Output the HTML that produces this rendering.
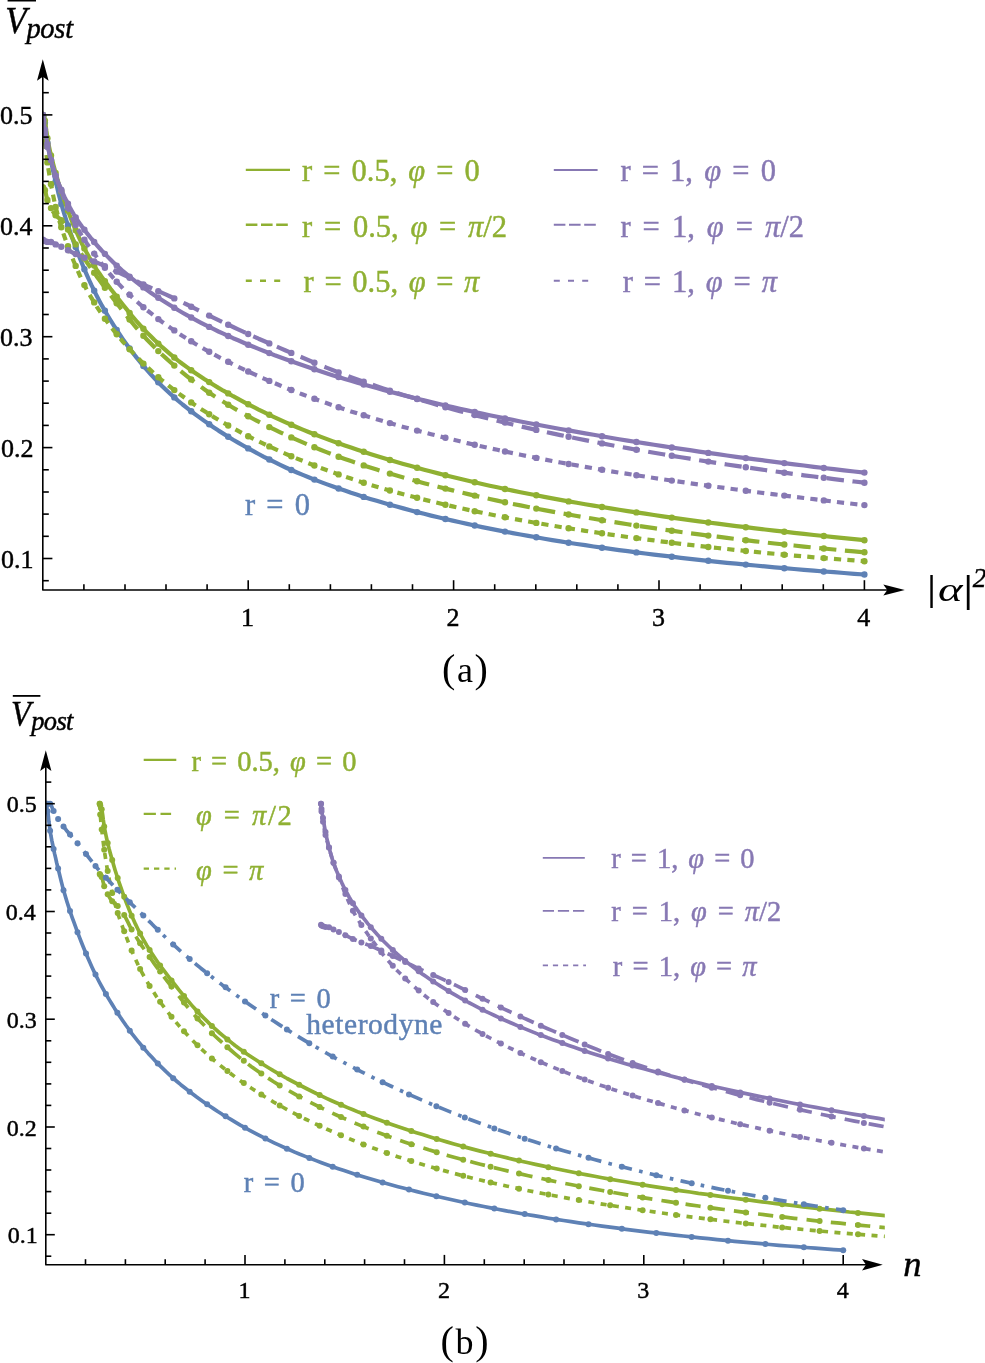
<!DOCTYPE html>
<html><head><meta charset="utf-8"><title>Figure</title>
<style>html,body{margin:0;padding:0;background:#fff}svg{display:block}text{font-family:"Liberation Serif",serif;white-space:pre;stroke-width:0.45px;paint-order:stroke fill}</style>
</head><body>
<svg width="985" height="1363" viewBox="0 0 985 1363">
<rect width="985" height="1363" fill="#fff"/>
<defs><clipPath id="cb"><rect x="45.2" y="780" width="839.6" height="490"/></clipPath><clipPath id="ca"><rect x="42.2" y="90" width="840" height="510"/></clipPath></defs>
<g clip-path="url(#ca)">
<path d="M42.8 114.9 L42.8 115.0 L42.9 115.5 L43.1 116.1 L43.3 117.0 L43.6 118.2 L44.0 119.5 L44.4 121.0 L44.9 122.7 L45.4 126.0 L46.0 131.2 L46.7 137.2 L47.4 142.7 L48.2 147.5 L49.1 152.1 L50.0 156.8 L51.0 161.5 L52.1 166.3 L53.2 171.2 L54.4 176.3 L55.6 181.5 L57.0 186.9 L58.3 192.6 L59.8 198.3 L61.3 203.9 L62.9 209.4 L64.5 214.7 L66.2 220.1 L68.0 225.5 L69.8 230.9 L71.7 236.3 L73.6 241.7 L75.7 247.1 L77.8 252.6 L79.9 258.2 L82.1 263.7 L84.4 269.2 L86.7 274.6 L89.1 280.0 L91.6 285.4 L94.2 290.7 L96.7 295.8 L99.4 300.9 L102.1 305.9 L104.9 310.8 L107.8 315.7 L110.7 320.5 L113.7 325.3 L116.7 330.0 L119.9 334.7 L123.0 339.3 L126.3 344.0 L129.6 348.5 L133.0 353.0 L136.4 357.4 L139.9 361.7 L143.4 366.0 L147.1 370.2 L150.8 374.3 L154.5 378.3 L158.3 382.3 L162.2 386.2 L166.2 390.0 L170.2 393.7 L174.3 397.4 L178.4 401.0 L182.6 404.5 L186.9 407.9 L191.2 411.3 L195.6 414.6 L200.1 417.9 L204.6 421.1 L209.2 424.3 L213.8 427.5 L218.5 430.6 L223.3 433.6 L228.2 436.7 L233.1 439.7 L238.1 442.6 L243.1 445.5 L248.2 448.4 L253.4 451.2 L258.6 454.0 L263.9 456.8 L269.3 459.5 L274.7 462.2 L280.2 464.9 L285.7 467.5 L291.3 470.0 L297.0 472.5 L302.8 474.9 L308.6 477.2 L314.4 479.6 L320.4 481.9 L326.4 484.1 L332.4 486.3 L338.6 488.5 L344.8 490.6 L351.0 492.8 L357.4 494.8 L363.7 496.9 L370.2 498.9 L376.7 500.8 L383.3 502.8 L389.9 504.7 L396.6 506.6 L403.4 508.4 L410.2 510.3 L417.1 512.1 L424.1 513.8 L431.1 515.6 L438.2 517.3 L445.4 519.0 L452.6 520.6 L459.9 522.3 L467.2 523.9 L474.7 525.5 L482.1 527.1 L489.7 528.6 L497.3 530.1 L505.0 531.6 L512.7 533.1 L520.5 534.5 L528.3 535.9 L536.3 537.3 L544.3 538.7 L552.3 540.1 L560.4 541.4 L568.6 542.7 L576.9 544.0 L585.2 545.2 L593.6 546.5 L602.0 547.7 L610.5 548.9 L619.1 550.1 L627.7 551.2 L636.4 552.4 L645.2 553.5 L654.0 554.6 L662.9 555.7 L671.8 556.7 L680.9 557.8 L689.9 558.8 L699.1 559.8 L708.3 560.8 L717.6 561.8 L726.9 562.8 L736.3 563.7 L745.8 564.6 L755.3 565.5 L764.9 566.4 L774.6 567.3 L784.3 568.2 L794.1 569.0 L803.9 569.9 L813.9 570.7 L823.8 571.5 L833.9 572.2 L844.0 573.0 L854.2 573.8 L864.4 574.5" fill="none" stroke="#5e81b5" stroke-width="4.2" stroke-linejoin="round"/>
<g fill="#5e81b5"><circle cx="42.8" cy="114.9" r="3.2"/><circle cx="43.3" cy="117.0" r="3.2"/><circle cx="44.9" cy="122.7" r="3.2"/><circle cx="47.4" cy="142.7" r="3.2"/><circle cx="51.0" cy="161.5" r="3.2"/><circle cx="55.6" cy="181.5" r="3.2"/><circle cx="61.3" cy="203.9" r="3.2"/><circle cx="68.0" cy="225.5" r="3.2"/><circle cx="75.7" cy="247.1" r="3.2"/><circle cx="84.4" cy="269.2" r="3.2"/><circle cx="94.2" cy="290.7" r="3.2"/><circle cx="104.9" cy="310.8" r="3.2"/><circle cx="116.7" cy="330.0" r="3.2"/><circle cx="129.6" cy="348.5" r="3.2"/><circle cx="143.4" cy="366.0" r="3.2"/><circle cx="158.3" cy="382.3" r="3.2"/><circle cx="174.3" cy="397.4" r="3.2"/><circle cx="191.2" cy="411.3" r="3.2"/><circle cx="209.2" cy="424.3" r="3.2"/><circle cx="228.2" cy="436.7" r="3.2"/><circle cx="248.2" cy="448.4" r="3.2"/><circle cx="269.3" cy="459.5" r="3.2"/><circle cx="291.3" cy="470.0" r="3.2"/><circle cx="314.4" cy="479.6" r="3.2"/><circle cx="338.6" cy="488.5" r="3.2"/><circle cx="363.7" cy="496.9" r="3.2"/><circle cx="389.9" cy="504.7" r="3.2"/><circle cx="417.1" cy="512.1" r="3.2"/><circle cx="445.4" cy="519.0" r="3.2"/><circle cx="474.7" cy="525.5" r="3.2"/><circle cx="505.0" cy="531.6" r="3.2"/><circle cx="536.3" cy="537.3" r="3.2"/><circle cx="568.6" cy="542.7" r="3.2"/><circle cx="602.0" cy="547.7" r="3.2"/><circle cx="636.4" cy="552.4" r="3.2"/><circle cx="671.8" cy="556.7" r="3.2"/><circle cx="708.3" cy="560.8" r="3.2"/><circle cx="745.8" cy="564.6" r="3.2"/><circle cx="784.3" cy="568.2" r="3.2"/><circle cx="823.8" cy="571.5" r="3.2"/><circle cx="864.4" cy="574.5" r="3.2"/></g>
</g>
<g clip-path="url(#ca)">
<path d="M42.8 114.9 L42.8 115.0 L42.9 115.3 L43.1 115.8 L43.3 116.4 L43.6 117.2 L44.0 118.2 L44.4 119.3 L44.9 120.6 L45.4 123.3 L46.0 128.0 L46.7 133.4 L47.4 138.3 L48.2 142.6 L49.1 146.9 L50.0 151.1 L51.0 155.4 L52.1 159.8 L53.2 164.1 L54.4 168.5 L55.6 173.0 L57.0 177.5 L58.3 182.1 L59.8 186.8 L61.3 191.5 L62.9 196.3 L64.5 201.1 L66.2 205.9 L68.0 210.7 L69.8 215.6 L71.7 220.5 L73.6 225.4 L75.7 230.2 L77.8 234.8 L79.9 239.4 L82.1 244.0 L84.4 248.4 L86.7 252.8 L89.1 257.1 L91.6 261.3 L94.2 265.5 L96.7 269.6 L99.4 273.5 L102.1 277.4 L104.9 281.3 L107.8 285.1 L110.7 289.0 L113.7 292.8 L116.7 296.8 L119.9 300.8 L123.0 304.8 L126.3 308.9 L129.6 313.0 L133.0 317.0 L136.4 321.0 L139.9 325.0 L143.4 328.8 L147.1 332.6 L150.8 336.3 L154.5 340.0 L158.3 343.6 L162.2 347.2 L166.2 350.7 L170.2 354.1 L174.3 357.5 L178.4 360.8 L182.6 364.0 L186.9 367.1 L191.2 370.2 L195.6 373.2 L200.1 376.2 L204.6 379.2 L209.2 382.1 L213.8 385.0 L218.5 387.9 L223.3 390.7 L228.2 393.4 L233.1 396.2 L238.1 398.9 L243.1 401.6 L248.2 404.3 L253.4 406.9 L258.6 409.6 L263.9 412.2 L269.3 414.8 L274.7 417.3 L280.2 419.9 L285.7 422.4 L291.3 424.8 L297.0 427.2 L302.8 429.6 L308.6 432.0 L314.4 434.3 L320.4 436.6 L326.4 438.9 L332.4 441.1 L338.6 443.3 L344.8 445.5 L351.0 447.6 L357.4 449.7 L363.7 451.8 L370.2 453.9 L376.7 455.9 L383.3 458.0 L389.9 460.0 L396.6 461.9 L403.4 463.9 L410.2 465.8 L417.1 467.8 L424.1 469.7 L431.1 471.5 L438.2 473.4 L445.4 475.2 L452.6 477.0 L459.9 478.8 L467.2 480.5 L474.7 482.3 L482.1 484.0 L489.7 485.7 L497.3 487.3 L505.0 489.0 L512.7 490.6 L520.5 492.2 L528.3 493.8 L536.3 495.3 L544.3 496.9 L552.3 498.4 L560.4 499.9 L568.6 501.4 L576.9 502.8 L585.2 504.2 L593.6 505.6 L602.0 507.0 L610.5 508.4 L619.1 509.8 L627.7 511.1 L636.4 512.4 L645.2 513.7 L654.0 515.0 L662.9 516.3 L671.8 517.6 L680.9 518.8 L689.9 520.1 L699.1 521.3 L708.3 522.5 L717.6 523.7 L726.9 524.9 L736.3 526.1 L745.8 527.2 L755.3 528.4 L764.9 529.5 L774.6 530.6 L784.3 531.7 L794.1 532.8 L803.9 533.9 L813.9 535.0 L823.8 536.0 L833.9 537.1 L844.0 538.1 L854.2 539.1 L864.4 540.2" fill="none" stroke="#8fb032" stroke-width="4.2" stroke-linejoin="round"/>
<g fill="#8fb032"><circle cx="42.8" cy="114.9" r="3.2"/><circle cx="43.3" cy="116.4" r="3.2"/><circle cx="44.9" cy="120.6" r="3.2"/><circle cx="47.4" cy="138.3" r="3.2"/><circle cx="51.0" cy="155.4" r="3.2"/><circle cx="55.6" cy="173.0" r="3.2"/><circle cx="61.3" cy="191.5" r="3.2"/><circle cx="68.0" cy="210.7" r="3.2"/><circle cx="75.7" cy="230.2" r="3.2"/><circle cx="84.4" cy="248.4" r="3.2"/><circle cx="94.2" cy="265.5" r="3.2"/><circle cx="104.9" cy="281.3" r="3.2"/><circle cx="116.7" cy="296.8" r="3.2"/><circle cx="129.6" cy="313.0" r="3.2"/><circle cx="143.4" cy="328.8" r="3.2"/><circle cx="158.3" cy="343.6" r="3.2"/><circle cx="174.3" cy="357.5" r="3.2"/><circle cx="191.2" cy="370.2" r="3.2"/><circle cx="209.2" cy="382.1" r="3.2"/><circle cx="228.2" cy="393.4" r="3.2"/><circle cx="248.2" cy="404.3" r="3.2"/><circle cx="269.3" cy="414.8" r="3.2"/><circle cx="291.3" cy="424.8" r="3.2"/><circle cx="314.4" cy="434.3" r="3.2"/><circle cx="338.6" cy="443.3" r="3.2"/><circle cx="363.7" cy="451.8" r="3.2"/><circle cx="389.9" cy="460.0" r="3.2"/><circle cx="417.1" cy="467.8" r="3.2"/><circle cx="445.4" cy="475.2" r="3.2"/><circle cx="474.7" cy="482.3" r="3.2"/><circle cx="505.0" cy="489.0" r="3.2"/><circle cx="536.3" cy="495.3" r="3.2"/><circle cx="568.6" cy="501.4" r="3.2"/><circle cx="602.0" cy="507.0" r="3.2"/><circle cx="636.4" cy="512.4" r="3.2"/><circle cx="671.8" cy="517.6" r="3.2"/><circle cx="708.3" cy="522.5" r="3.2"/><circle cx="745.8" cy="527.2" r="3.2"/><circle cx="784.3" cy="531.7" r="3.2"/><circle cx="823.8" cy="536.0" r="3.2"/><circle cx="864.4" cy="540.2" r="3.2"/></g>
</g>
<g clip-path="url(#ca)">
<path d="M42.8 187.3 L42.8 187.4 L42.9 187.5 L43.1 187.8 L43.3 188.1 L43.6 188.5 L44.0 189.1 L44.4 189.6 L44.9 190.3 L45.4 191.8 L46.0 194.4 L46.7 197.4 L47.4 200.0 L48.2 202.1 L49.1 204.2 L50.0 206.1 L51.0 208.1 L52.1 210.0 L53.2 211.9 L54.4 213.7 L55.6 215.2 L57.0 216.5 L58.3 217.6 L59.8 218.7 L61.3 220.1 L62.9 222.0 L64.5 224.2 L66.2 226.8 L68.0 229.6 L69.8 232.8 L71.7 236.6 L73.6 240.6 L75.7 244.4 L77.8 247.9 L79.9 251.5 L82.1 255.0 L84.4 258.5 L86.7 262.0 L89.1 265.5 L91.6 269.0 L94.2 272.7 L96.7 276.4 L99.4 280.1 L102.1 283.9 L104.9 287.7 L107.8 291.5 L110.7 295.4 L113.7 299.3 L116.7 303.2 L119.9 307.2 L123.0 311.3 L126.3 315.4 L129.6 319.6 L133.0 323.7 L136.4 327.8 L139.9 331.9 L143.4 335.8 L147.1 339.7 L150.8 343.5 L154.5 347.3 L158.3 351.1 L162.2 354.8 L166.2 358.4 L170.2 362.0 L174.3 365.6 L178.4 369.1 L182.6 372.6 L186.9 376.1 L191.2 379.5 L195.6 382.9 L200.1 386.2 L204.6 389.5 L209.2 392.7 L213.8 395.8 L218.5 398.8 L223.3 401.8 L228.2 404.8 L233.1 407.7 L238.1 410.6 L243.1 413.4 L248.2 416.2 L253.4 419.0 L258.6 421.7 L263.9 424.4 L269.3 427.1 L274.7 429.7 L280.2 432.3 L285.7 434.8 L291.3 437.4 L297.0 439.9 L302.8 442.4 L308.6 444.9 L314.4 447.3 L320.4 449.7 L326.4 452.1 L332.4 454.4 L338.6 456.7 L344.8 458.9 L351.0 461.1 L357.4 463.2 L363.7 465.4 L370.2 467.5 L376.7 469.5 L383.3 471.6 L389.9 473.6 L396.6 475.5 L403.4 477.5 L410.2 479.4 L417.1 481.3 L424.1 483.2 L431.1 485.0 L438.2 486.8 L445.4 488.6 L452.6 490.4 L459.9 492.2 L467.2 493.9 L474.7 495.6 L482.1 497.3 L489.7 499.0 L497.3 500.6 L505.0 502.3 L512.7 503.9 L520.5 505.4 L528.3 507.0 L536.3 508.6 L544.3 510.1 L552.3 511.6 L560.4 513.1 L568.6 514.5 L576.9 516.0 L585.2 517.4 L593.6 518.8 L602.0 520.2 L610.5 521.6 L619.1 522.9 L627.7 524.3 L636.4 525.6 L645.2 526.9 L654.0 528.2 L662.9 529.5 L671.8 530.7 L680.9 532.0 L689.9 533.2 L699.1 534.4 L708.3 535.6 L717.6 536.7 L726.9 537.9 L736.3 539.1 L745.8 540.2 L755.3 541.3 L764.9 542.4 L774.6 543.5 L784.3 544.5 L794.1 545.5 L803.9 546.6 L813.9 547.6 L823.8 548.5 L833.9 549.5 L844.0 550.5 L854.2 551.4 L864.4 552.3" fill="none" stroke="#8fb032" stroke-width="4.2" stroke-linejoin="round" stroke-dasharray="17.2 8.6"/>
<g fill="#8fb032"><circle cx="42.8" cy="187.3" r="3.2"/><circle cx="43.3" cy="188.1" r="3.2"/><circle cx="44.9" cy="190.3" r="3.2"/><circle cx="47.4" cy="200.0" r="3.2"/><circle cx="51.0" cy="208.1" r="3.2"/><circle cx="55.6" cy="215.2" r="3.2"/><circle cx="61.3" cy="220.1" r="3.2"/><circle cx="68.0" cy="229.6" r="3.2"/><circle cx="75.7" cy="244.4" r="3.2"/><circle cx="84.4" cy="258.5" r="3.2"/><circle cx="94.2" cy="272.7" r="3.2"/><circle cx="104.9" cy="287.7" r="3.2"/><circle cx="116.7" cy="303.2" r="3.2"/><circle cx="129.6" cy="319.6" r="3.2"/><circle cx="143.4" cy="335.8" r="3.2"/><circle cx="158.3" cy="351.1" r="3.2"/><circle cx="174.3" cy="365.6" r="3.2"/><circle cx="191.2" cy="379.5" r="3.2"/><circle cx="209.2" cy="392.7" r="3.2"/><circle cx="228.2" cy="404.8" r="3.2"/><circle cx="248.2" cy="416.2" r="3.2"/><circle cx="269.3" cy="427.1" r="3.2"/><circle cx="291.3" cy="437.4" r="3.2"/><circle cx="314.4" cy="447.3" r="3.2"/><circle cx="338.6" cy="456.7" r="3.2"/><circle cx="363.7" cy="465.4" r="3.2"/><circle cx="389.9" cy="473.6" r="3.2"/><circle cx="417.1" cy="481.3" r="3.2"/><circle cx="445.4" cy="488.6" r="3.2"/><circle cx="474.7" cy="495.6" r="3.2"/><circle cx="505.0" cy="502.3" r="3.2"/><circle cx="536.3" cy="508.6" r="3.2"/><circle cx="568.6" cy="514.5" r="3.2"/><circle cx="602.0" cy="520.2" r="3.2"/><circle cx="636.4" cy="525.6" r="3.2"/><circle cx="671.8" cy="530.7" r="3.2"/><circle cx="708.3" cy="535.6" r="3.2"/><circle cx="745.8" cy="540.2" r="3.2"/><circle cx="784.3" cy="544.5" r="3.2"/><circle cx="823.8" cy="548.5" r="3.2"/><circle cx="864.4" cy="552.3" r="3.2"/></g>
</g>
<g clip-path="url(#ca)">
<path d="M42.8 114.9 L42.8 117.0 L42.9 119.6 L43.1 122.6 L43.3 125.9 L43.6 129.5 L44.0 133.3 L44.4 137.3 L44.9 141.4 L45.4 146.0 L46.0 151.3 L46.7 156.9 L47.4 162.4 L48.2 167.8 L49.1 173.2 L50.0 178.8 L51.0 184.3 L52.1 189.9 L53.2 195.7 L54.4 201.4 L55.6 206.9 L57.0 212.1 L58.3 217.3 L59.8 222.4 L61.3 227.3 L62.9 232.1 L64.5 236.8 L66.2 241.4 L68.0 246.2 L69.8 251.1 L71.7 256.0 L73.6 261.0 L75.7 265.9 L77.8 270.8 L79.9 275.6 L82.1 280.5 L84.4 285.1 L86.7 289.6 L89.1 293.9 L91.6 298.2 L94.2 302.4 L96.7 306.6 L99.4 310.7 L102.1 314.7 L104.9 318.7 L107.8 322.6 L110.7 326.5 L113.7 330.4 L116.7 334.2 L119.9 338.0 L123.0 341.8 L126.3 345.5 L129.6 349.2 L133.0 352.9 L136.4 356.5 L139.9 360.0 L143.4 363.6 L147.1 367.0 L150.8 370.4 L154.5 373.8 L158.3 377.2 L162.2 380.5 L166.2 383.7 L170.2 386.9 L174.3 390.1 L178.4 393.2 L182.6 396.3 L186.9 399.4 L191.2 402.4 L195.6 405.4 L200.1 408.4 L204.6 411.3 L209.2 414.2 L213.8 417.1 L218.5 419.9 L223.3 422.7 L228.2 425.5 L233.1 428.2 L238.1 430.9 L243.1 433.6 L248.2 436.2 L253.4 438.8 L258.6 441.4 L263.9 443.9 L269.3 446.4 L274.7 448.9 L280.2 451.4 L285.7 453.8 L291.3 456.2 L297.0 458.6 L302.8 460.9 L308.6 463.2 L314.4 465.5 L320.4 467.8 L326.4 470.0 L332.4 472.2 L338.6 474.4 L344.8 476.5 L351.0 478.6 L357.4 480.7 L363.7 482.7 L370.2 484.7 L376.7 486.7 L383.3 488.6 L389.9 490.5 L396.6 492.4 L403.4 494.2 L410.2 496.0 L417.1 497.8 L424.1 499.6 L431.1 501.3 L438.2 503.0 L445.4 504.7 L452.6 506.4 L459.9 508.0 L467.2 509.6 L474.7 511.2 L482.1 512.7 L489.7 514.3 L497.3 515.8 L505.0 517.3 L512.7 518.7 L520.5 520.1 L528.3 521.5 L536.3 522.9 L544.3 524.3 L552.3 525.6 L560.4 527.0 L568.6 528.3 L576.9 529.6 L585.2 530.8 L593.6 532.1 L602.0 533.3 L610.5 534.6 L619.1 535.8 L627.7 537.0 L636.4 538.1 L645.2 539.3 L654.0 540.4 L662.9 541.6 L671.8 542.7 L680.9 543.8 L689.9 544.9 L699.1 545.9 L708.3 547.0 L717.6 548.0 L726.9 549.0 L736.3 550.0 L745.8 551.0 L755.3 551.9 L764.9 552.9 L774.6 553.8 L784.3 554.7 L794.1 555.6 L803.9 556.4 L813.9 557.3 L823.8 558.1 L833.9 558.9 L844.0 559.7 L854.2 560.4 L864.4 561.2" fill="none" stroke="#8fb032" stroke-width="4.2" stroke-linejoin="round" stroke-dasharray="7.2 6.2"/>
<g fill="#8fb032"><circle cx="42.8" cy="114.9" r="3.2"/><circle cx="43.3" cy="125.9" r="3.2"/><circle cx="44.9" cy="141.4" r="3.2"/><circle cx="47.4" cy="162.4" r="3.2"/><circle cx="51.0" cy="184.3" r="3.2"/><circle cx="55.6" cy="206.9" r="3.2"/><circle cx="61.3" cy="227.3" r="3.2"/><circle cx="68.0" cy="246.2" r="3.2"/><circle cx="75.7" cy="265.9" r="3.2"/><circle cx="84.4" cy="285.1" r="3.2"/><circle cx="94.2" cy="302.4" r="3.2"/><circle cx="104.9" cy="318.7" r="3.2"/><circle cx="116.7" cy="334.2" r="3.2"/><circle cx="129.6" cy="349.2" r="3.2"/><circle cx="143.4" cy="363.6" r="3.2"/><circle cx="158.3" cy="377.2" r="3.2"/><circle cx="174.3" cy="390.1" r="3.2"/><circle cx="191.2" cy="402.4" r="3.2"/><circle cx="209.2" cy="414.2" r="3.2"/><circle cx="228.2" cy="425.5" r="3.2"/><circle cx="248.2" cy="436.2" r="3.2"/><circle cx="269.3" cy="446.4" r="3.2"/><circle cx="291.3" cy="456.2" r="3.2"/><circle cx="314.4" cy="465.5" r="3.2"/><circle cx="338.6" cy="474.4" r="3.2"/><circle cx="363.7" cy="482.7" r="3.2"/><circle cx="389.9" cy="490.5" r="3.2"/><circle cx="417.1" cy="497.8" r="3.2"/><circle cx="445.4" cy="504.7" r="3.2"/><circle cx="474.7" cy="511.2" r="3.2"/><circle cx="505.0" cy="517.3" r="3.2"/><circle cx="536.3" cy="522.9" r="3.2"/><circle cx="568.6" cy="528.3" r="3.2"/><circle cx="602.0" cy="533.3" r="3.2"/><circle cx="636.4" cy="538.1" r="3.2"/><circle cx="671.8" cy="542.7" r="3.2"/><circle cx="708.3" cy="547.0" r="3.2"/><circle cx="745.8" cy="551.0" r="3.2"/><circle cx="784.3" cy="554.7" r="3.2"/><circle cx="823.8" cy="558.1" r="3.2"/><circle cx="864.4" cy="561.2" r="3.2"/></g>
</g>
<g clip-path="url(#ca)">
<path d="M42.8 114.9 L42.8 115.7 L42.9 116.9 L43.1 118.4 L43.3 120.2 L43.6 122.3 L44.0 124.6 L44.4 127.0 L44.9 129.5 L45.4 132.5 L46.0 136.1 L46.7 140.1 L47.4 144.1 L48.2 147.9 L49.1 151.9 L50.0 155.9 L51.0 159.9 L52.1 163.9 L53.2 167.9 L54.4 171.8 L55.6 175.6 L57.0 179.3 L58.3 182.8 L59.8 186.3 L61.3 189.8 L62.9 193.3 L64.5 196.8 L66.2 200.3 L68.0 203.8 L69.8 207.3 L71.7 210.7 L73.6 214.1 L75.7 217.4 L77.8 220.6 L79.9 223.7 L82.1 226.8 L84.4 229.8 L86.7 232.9 L89.1 235.9 L91.6 239.0 L94.2 242.0 L96.7 245.0 L99.4 248.0 L102.1 251.0 L104.9 253.9 L107.8 256.9 L110.7 259.8 L113.7 262.7 L116.7 265.6 L119.9 268.4 L123.0 271.2 L126.3 273.9 L129.6 276.7 L133.0 279.4 L136.4 282.1 L139.9 284.8 L143.4 287.4 L147.1 290.1 L150.8 292.7 L154.5 295.2 L158.3 297.8 L162.2 300.3 L166.2 302.8 L170.2 305.3 L174.3 307.8 L178.4 310.3 L182.6 312.7 L186.9 315.1 L191.2 317.5 L195.6 319.9 L200.1 322.3 L204.6 324.6 L209.2 326.9 L213.8 329.2 L218.5 331.5 L223.3 333.7 L228.2 336.0 L233.1 338.2 L238.1 340.3 L243.1 342.5 L248.2 344.7 L253.4 346.8 L258.6 348.9 L263.9 351.0 L269.3 353.1 L274.7 355.2 L280.2 357.2 L285.7 359.3 L291.3 361.3 L297.0 363.3 L302.8 365.3 L308.6 367.3 L314.4 369.3 L320.4 371.3 L326.4 373.3 L332.4 375.2 L338.6 377.1 L344.8 379.0 L351.0 380.8 L357.4 382.7 L363.7 384.5 L370.2 386.3 L376.7 388.1 L383.3 389.9 L389.9 391.7 L396.6 393.4 L403.4 395.2 L410.2 396.9 L417.1 398.7 L424.1 400.4 L431.1 402.1 L438.2 403.8 L445.4 405.5 L452.6 407.1 L459.9 408.8 L467.2 410.4 L474.7 412.0 L482.1 413.6 L489.7 415.2 L497.3 416.8 L505.0 418.4 L512.7 419.9 L520.5 421.5 L528.3 423.0 L536.3 424.5 L544.3 426.0 L552.3 427.5 L560.4 429.0 L568.6 430.4 L576.9 431.9 L585.2 433.4 L593.6 434.8 L602.0 436.3 L610.5 437.7 L619.1 439.2 L627.7 440.6 L636.4 442.0 L645.2 443.4 L654.0 444.8 L662.9 446.1 L671.8 447.5 L680.9 448.9 L689.9 450.2 L699.1 451.6 L708.3 452.9 L717.6 454.2 L726.9 455.5 L736.3 456.8 L745.8 458.1 L755.3 459.4 L764.9 460.6 L774.6 461.9 L784.3 463.1 L794.1 464.3 L803.9 465.5 L813.9 466.8 L823.8 468.0 L833.9 469.1 L844.0 470.3 L854.2 471.5 L864.4 472.6" fill="none" stroke="#8778b3" stroke-width="4.2" stroke-linejoin="round"/>
<g fill="#8778b3"><circle cx="42.8" cy="114.9" r="3.2"/><circle cx="43.3" cy="120.2" r="3.2"/><circle cx="44.9" cy="129.5" r="3.2"/><circle cx="47.4" cy="144.1" r="3.2"/><circle cx="51.0" cy="159.9" r="3.2"/><circle cx="55.6" cy="175.6" r="3.2"/><circle cx="61.3" cy="189.8" r="3.2"/><circle cx="68.0" cy="203.8" r="3.2"/><circle cx="75.7" cy="217.4" r="3.2"/><circle cx="84.4" cy="229.8" r="3.2"/><circle cx="94.2" cy="242.0" r="3.2"/><circle cx="104.9" cy="253.9" r="3.2"/><circle cx="116.7" cy="265.6" r="3.2"/><circle cx="129.6" cy="276.7" r="3.2"/><circle cx="143.4" cy="287.4" r="3.2"/><circle cx="158.3" cy="297.8" r="3.2"/><circle cx="174.3" cy="307.8" r="3.2"/><circle cx="191.2" cy="317.5" r="3.2"/><circle cx="209.2" cy="326.9" r="3.2"/><circle cx="228.2" cy="336.0" r="3.2"/><circle cx="248.2" cy="344.7" r="3.2"/><circle cx="269.3" cy="353.1" r="3.2"/><circle cx="291.3" cy="361.3" r="3.2"/><circle cx="314.4" cy="369.3" r="3.2"/><circle cx="338.6" cy="377.1" r="3.2"/><circle cx="363.7" cy="384.5" r="3.2"/><circle cx="389.9" cy="391.7" r="3.2"/><circle cx="417.1" cy="398.7" r="3.2"/><circle cx="445.4" cy="405.5" r="3.2"/><circle cx="474.7" cy="412.0" r="3.2"/><circle cx="505.0" cy="418.4" r="3.2"/><circle cx="536.3" cy="424.5" r="3.2"/><circle cx="568.6" cy="430.4" r="3.2"/><circle cx="602.0" cy="436.3" r="3.2"/><circle cx="636.4" cy="442.0" r="3.2"/><circle cx="671.8" cy="447.5" r="3.2"/><circle cx="708.3" cy="452.9" r="3.2"/><circle cx="745.8" cy="458.1" r="3.2"/><circle cx="784.3" cy="463.1" r="3.2"/><circle cx="823.8" cy="468.0" r="3.2"/><circle cx="864.4" cy="472.6" r="3.2"/></g>
</g>
<g clip-path="url(#ca)">
<path d="M42.8 239.6 L42.8 239.7 L42.9 239.9 L43.1 240.1 L43.3 240.3 L43.6 240.5 L44.0 240.7 L44.4 240.9 L44.9 241.1 L45.4 241.3 L46.0 241.5 L46.7 241.7 L47.4 241.9 L48.2 241.9 L49.1 241.9 L50.0 241.9 L51.0 242.0 L52.1 242.3 L53.2 242.9 L54.4 243.7 L55.6 244.4 L57.0 245.0 L58.3 245.6 L59.8 246.2 L61.3 246.8 L62.9 247.6 L64.5 248.4 L66.2 249.3 L68.0 250.2 L69.8 251.1 L71.7 252.1 L73.6 253.1 L75.7 254.0 L77.8 255.0 L79.9 255.9 L82.1 256.8 L84.4 257.7 L86.7 258.6 L89.1 259.5 L91.6 260.4 L94.2 261.4 L96.7 262.5 L99.4 263.6 L102.1 264.9 L104.9 266.1 L107.8 267.5 L110.7 268.8 L113.7 270.2 L116.7 271.6 L119.9 273.1 L123.0 274.6 L126.3 276.2 L129.6 277.8 L133.0 279.5 L136.4 281.1 L139.9 282.8 L143.4 284.5 L147.1 286.2 L150.8 287.8 L154.5 289.5 L158.3 291.2 L162.2 292.9 L166.2 294.7 L170.2 296.5 L174.3 298.4 L178.4 300.4 L182.6 302.4 L186.9 304.5 L191.2 306.7 L195.6 308.9 L200.1 311.1 L204.6 313.3 L209.2 315.6 L213.8 317.8 L218.5 320.1 L223.3 322.4 L228.2 324.7 L233.1 327.0 L238.1 329.3 L243.1 331.7 L248.2 334.0 L253.4 336.3 L258.6 338.7 L263.9 341.0 L269.3 343.4 L274.7 345.7 L280.2 348.1 L285.7 350.5 L291.3 352.9 L297.0 355.3 L302.8 357.7 L308.6 360.2 L314.4 362.7 L320.4 365.2 L326.4 367.6 L332.4 370.0 L338.6 372.4 L344.8 374.8 L351.0 377.1 L357.4 379.4 L363.7 381.7 L370.2 384.0 L376.7 386.2 L383.3 388.4 L389.9 390.6 L396.6 392.8 L403.4 394.9 L410.2 397.0 L417.1 399.0 L424.1 401.1 L431.1 403.1 L438.2 405.2 L445.4 407.2 L452.6 409.2 L459.9 411.1 L467.2 413.1 L474.7 415.1 L482.1 417.0 L489.7 418.9 L497.3 420.8 L505.0 422.6 L512.7 424.5 L520.5 426.3 L528.3 428.1 L536.3 429.9 L544.3 431.6 L552.3 433.4 L560.4 435.1 L568.6 436.8 L576.9 438.5 L585.2 440.1 L593.6 441.8 L602.0 443.4 L610.5 445.0 L619.1 446.6 L627.7 448.1 L636.4 449.7 L645.2 451.2 L654.0 452.8 L662.9 454.3 L671.8 455.8 L680.9 457.3 L689.9 458.7 L699.1 460.2 L708.3 461.6 L717.6 463.1 L726.9 464.5 L736.3 465.9 L745.8 467.3 L755.3 468.6 L764.9 470.0 L774.6 471.3 L784.3 472.7 L794.1 474.0 L803.9 475.3 L813.9 476.5 L823.8 477.8 L833.9 479.1 L844.0 480.3 L854.2 481.5 L864.4 482.7" fill="none" stroke="#8778b3" stroke-width="4.2" stroke-linejoin="round" stroke-dasharray="17.2 8.6"/>
<g fill="#8778b3"><circle cx="42.8" cy="239.6" r="3.2"/><circle cx="43.3" cy="240.3" r="3.2"/><circle cx="44.9" cy="241.1" r="3.2"/><circle cx="47.4" cy="241.9" r="3.2"/><circle cx="51.0" cy="242.0" r="3.2"/><circle cx="55.6" cy="244.4" r="3.2"/><circle cx="61.3" cy="246.8" r="3.2"/><circle cx="68.0" cy="250.2" r="3.2"/><circle cx="75.7" cy="254.0" r="3.2"/><circle cx="84.4" cy="257.7" r="3.2"/><circle cx="94.2" cy="261.4" r="3.2"/><circle cx="104.9" cy="266.1" r="3.2"/><circle cx="116.7" cy="271.6" r="3.2"/><circle cx="129.6" cy="277.8" r="3.2"/><circle cx="143.4" cy="284.5" r="3.2"/><circle cx="158.3" cy="291.2" r="3.2"/><circle cx="174.3" cy="298.4" r="3.2"/><circle cx="191.2" cy="306.7" r="3.2"/><circle cx="209.2" cy="315.6" r="3.2"/><circle cx="228.2" cy="324.7" r="3.2"/><circle cx="248.2" cy="334.0" r="3.2"/><circle cx="269.3" cy="343.4" r="3.2"/><circle cx="291.3" cy="352.9" r="3.2"/><circle cx="314.4" cy="362.7" r="3.2"/><circle cx="338.6" cy="372.4" r="3.2"/><circle cx="363.7" cy="381.7" r="3.2"/><circle cx="389.9" cy="390.6" r="3.2"/><circle cx="417.1" cy="399.0" r="3.2"/><circle cx="445.4" cy="407.2" r="3.2"/><circle cx="474.7" cy="415.1" r="3.2"/><circle cx="505.0" cy="422.6" r="3.2"/><circle cx="536.3" cy="429.9" r="3.2"/><circle cx="568.6" cy="436.8" r="3.2"/><circle cx="602.0" cy="443.4" r="3.2"/><circle cx="636.4" cy="449.7" r="3.2"/><circle cx="671.8" cy="455.8" r="3.2"/><circle cx="708.3" cy="461.6" r="3.2"/><circle cx="745.8" cy="467.3" r="3.2"/><circle cx="784.3" cy="472.7" r="3.2"/><circle cx="823.8" cy="477.8" r="3.2"/><circle cx="864.4" cy="482.7" r="3.2"/></g>
</g>
<g clip-path="url(#ca)">
<path d="M42.8 114.9 L42.8 116.6 L42.9 118.5 L43.1 120.7 L43.3 123.0 L43.6 125.5 L44.0 128.0 L44.4 130.7 L44.9 133.5 L45.4 136.6 L46.0 140.0 L46.7 143.5 L47.4 147.0 L48.2 150.2 L49.1 153.4 L50.0 156.7 L51.0 160.1 L52.1 163.8 L53.2 167.7 L54.4 171.7 L55.6 175.6 L57.0 179.4 L58.3 183.1 L59.8 186.9 L61.3 190.8 L62.9 195.0 L64.5 199.2 L66.2 203.6 L68.0 207.9 L69.8 212.2 L71.7 216.7 L73.6 221.0 L75.7 225.1 L77.8 228.9 L79.9 232.6 L82.1 236.1 L84.4 239.7 L86.7 243.2 L89.1 246.6 L91.6 250.1 L94.2 253.6 L96.7 257.1 L99.4 260.7 L102.1 264.2 L104.9 267.8 L107.8 271.4 L110.7 274.9 L113.7 278.4 L116.7 281.8 L119.9 285.1 L123.0 288.4 L126.3 291.6 L129.6 294.8 L133.0 298.0 L136.4 301.1 L139.9 304.2 L143.4 307.2 L147.1 310.3 L150.8 313.2 L154.5 316.2 L158.3 319.1 L162.2 322.0 L166.2 324.8 L170.2 327.6 L174.3 330.4 L178.4 333.2 L182.6 336.0 L186.9 338.7 L191.2 341.3 L195.6 344.0 L200.1 346.6 L204.6 349.2 L209.2 351.8 L213.8 354.4 L218.5 356.9 L223.3 359.4 L228.2 361.8 L233.1 364.3 L238.1 366.7 L243.1 369.1 L248.2 371.5 L253.4 373.9 L258.6 376.2 L263.9 378.6 L269.3 380.9 L274.7 383.2 L280.2 385.5 L285.7 387.8 L291.3 390.0 L297.0 392.3 L302.8 394.5 L308.6 396.7 L314.4 398.8 L320.4 401.0 L326.4 403.1 L332.4 405.2 L338.6 407.3 L344.8 409.3 L351.0 411.4 L357.4 413.4 L363.7 415.3 L370.2 417.3 L376.7 419.2 L383.3 421.2 L389.9 423.1 L396.6 425.0 L403.4 426.9 L410.2 428.7 L417.1 430.6 L424.1 432.4 L431.1 434.2 L438.2 436.0 L445.4 437.8 L452.6 439.6 L459.9 441.3 L467.2 443.1 L474.7 444.8 L482.1 446.5 L489.7 448.2 L497.3 449.8 L505.0 451.5 L512.7 453.1 L520.5 454.7 L528.3 456.3 L536.3 457.9 L544.3 459.4 L552.3 461.0 L560.4 462.5 L568.6 464.0 L576.9 465.4 L585.2 466.9 L593.6 468.3 L602.0 469.8 L610.5 471.2 L619.1 472.6 L627.7 473.9 L636.4 475.3 L645.2 476.6 L654.0 478.0 L662.9 479.3 L671.8 480.6 L680.9 481.9 L689.9 483.2 L699.1 484.5 L708.3 485.8 L717.6 487.0 L726.9 488.3 L736.3 489.5 L745.8 490.8 L755.3 492.0 L764.9 493.2 L774.6 494.4 L784.3 495.6 L794.1 496.8 L803.9 498.0 L813.9 499.2 L823.8 500.4 L833.9 501.6 L844.0 502.8 L854.2 504.0 L864.4 505.1" fill="none" stroke="#8778b3" stroke-width="4.2" stroke-linejoin="round" stroke-dasharray="7.2 6.2"/>
<g fill="#8778b3"><circle cx="42.8" cy="114.9" r="3.2"/><circle cx="43.3" cy="123.0" r="3.2"/><circle cx="44.9" cy="133.5" r="3.2"/><circle cx="47.4" cy="147.0" r="3.2"/><circle cx="51.0" cy="160.1" r="3.2"/><circle cx="55.6" cy="175.6" r="3.2"/><circle cx="61.3" cy="190.8" r="3.2"/><circle cx="68.0" cy="207.9" r="3.2"/><circle cx="75.7" cy="225.1" r="3.2"/><circle cx="84.4" cy="239.7" r="3.2"/><circle cx="94.2" cy="253.6" r="3.2"/><circle cx="104.9" cy="267.8" r="3.2"/><circle cx="116.7" cy="281.8" r="3.2"/><circle cx="129.6" cy="294.8" r="3.2"/><circle cx="143.4" cy="307.2" r="3.2"/><circle cx="158.3" cy="319.1" r="3.2"/><circle cx="174.3" cy="330.4" r="3.2"/><circle cx="191.2" cy="341.3" r="3.2"/><circle cx="209.2" cy="351.8" r="3.2"/><circle cx="228.2" cy="361.8" r="3.2"/><circle cx="248.2" cy="371.5" r="3.2"/><circle cx="269.3" cy="380.9" r="3.2"/><circle cx="291.3" cy="390.0" r="3.2"/><circle cx="314.4" cy="398.8" r="3.2"/><circle cx="338.6" cy="407.3" r="3.2"/><circle cx="363.7" cy="415.3" r="3.2"/><circle cx="389.9" cy="423.1" r="3.2"/><circle cx="417.1" cy="430.6" r="3.2"/><circle cx="445.4" cy="437.8" r="3.2"/><circle cx="474.7" cy="444.8" r="3.2"/><circle cx="505.0" cy="451.5" r="3.2"/><circle cx="536.3" cy="457.9" r="3.2"/><circle cx="568.6" cy="464.0" r="3.2"/><circle cx="602.0" cy="469.8" r="3.2"/><circle cx="636.4" cy="475.3" r="3.2"/><circle cx="671.8" cy="480.6" r="3.2"/><circle cx="708.3" cy="485.8" r="3.2"/><circle cx="745.8" cy="490.8" r="3.2"/><circle cx="784.3" cy="495.6" r="3.2"/><circle cx="823.8" cy="500.4" r="3.2"/><circle cx="864.4" cy="505.1" r="3.2"/></g>
</g>
<g stroke="#000" stroke-width="1.6" fill="none">
<path d="M42.8 590.0 V70"/>
<path d="M42.2 590.0 H890"/>
<path d="M42.8 580.7h6.0"/>
<path d="M42.8 558.5h9.6"/>
<path d="M42.8 536.3h6.0"/>
<path d="M42.8 514.1h6.0"/>
<path d="M42.8 492.0h6.0"/>
<path d="M42.8 469.8h6.0"/>
<path d="M42.8 447.6h9.6"/>
<path d="M42.8 425.4h6.0"/>
<path d="M42.8 403.2h6.0"/>
<path d="M42.8 381.1h6.0"/>
<path d="M42.8 358.9h6.0"/>
<path d="M42.8 336.7h9.6"/>
<path d="M42.8 314.5h6.0"/>
<path d="M42.8 292.3h6.0"/>
<path d="M42.8 270.2h6.0"/>
<path d="M42.8 248.0h6.0"/>
<path d="M42.8 225.8h9.6"/>
<path d="M42.8 203.6h6.0"/>
<path d="M42.8 181.4h6.0"/>
<path d="M42.8 159.3h6.0"/>
<path d="M42.8 137.1h6.0"/>
<path d="M42.8 114.9h9.6"/>
<path d="M42.8 92.7h6.0"/>
<path d="M83.9 590.0v-5.8"/>
<path d="M125.0 590.0v-5.8"/>
<path d="M166.0 590.0v-5.8"/>
<path d="M207.1 590.0v-5.8"/>
<path d="M248.2 590.0v-9.8"/>
<path d="M289.3 590.0v-5.8"/>
<path d="M330.4 590.0v-5.8"/>
<path d="M371.4 590.0v-5.8"/>
<path d="M412.5 590.0v-5.8"/>
<path d="M453.6 590.0v-9.8"/>
<path d="M494.7 590.0v-5.8"/>
<path d="M535.8 590.0v-5.8"/>
<path d="M576.8 590.0v-5.8"/>
<path d="M617.9 590.0v-5.8"/>
<path d="M659.0 590.0v-9.8"/>
<path d="M700.1 590.0v-5.8"/>
<path d="M741.2 590.0v-5.8"/>
<path d="M782.2 590.0v-5.8"/>
<path d="M823.3 590.0v-5.8"/>
<path d="M864.4 590.0v-9.8"/>
</g>
<path d="M42.8 59.3 l5.8 21.5 l-5.8 -4 l-5.8 4z" fill="#000"/>
<path d="M904.8 590.0 l-21.5 -5.6 l4 5.6 l-4 5.6z" fill="#000"/>
<g clip-path="url(#cb)">
<path d="M45.6 803.7 L45.6 803.8 L45.7 804.2 L45.8 804.8 L46.0 805.6 L46.3 806.5 L46.6 807.7 L47.0 809.0 L47.4 810.5 L47.8 812.4 L48.4 816.4 L48.9 821.6 L49.6 827.1 L50.3 831.9 L51.0 836.2 L51.8 840.4 L52.7 844.6 L53.6 849.0 L54.5 853.4 L55.6 857.9 L56.6 862.5 L57.8 867.2 L59.0 872.1 L60.2 877.2 L61.5 882.4 L62.8 887.6 L64.3 892.7 L65.7 897.6 L67.2 902.5 L68.8 907.4 L70.4 912.4 L72.1 917.3 L73.9 922.2 L75.7 927.2 L77.5 932.2 L79.4 937.2 L81.4 942.3 L83.4 947.3 L85.5 952.3 L87.6 957.3 L89.8 962.3 L92.0 967.2 L94.3 972.1 L96.6 976.8 L99.0 981.5 L101.5 986.2 L104.0 990.7 L106.6 995.2 L109.2 999.6 L111.9 1004.0 L114.6 1008.4 L117.4 1012.7 L120.2 1017.0 L123.1 1021.2 L126.1 1025.5 L129.1 1029.6 L132.1 1033.8 L135.3 1037.8 L138.4 1041.8 L141.7 1045.7 L145.0 1049.6 L148.3 1053.4 L151.7 1057.1 L155.1 1060.8 L158.6 1064.4 L162.2 1067.9 L165.8 1071.4 L169.5 1074.8 L173.2 1078.2 L177.0 1081.5 L180.8 1084.7 L184.7 1087.8 L188.7 1090.9 L192.7 1094.0 L196.7 1097.0 L200.8 1099.9 L205.0 1102.9 L209.2 1105.8 L213.5 1108.6 L217.8 1111.5 L222.2 1114.3 L226.7 1117.0 L231.2 1119.7 L235.7 1122.4 L240.3 1125.1 L245.0 1127.7 L249.7 1130.3 L254.5 1132.9 L259.3 1135.4 L264.2 1137.9 L269.1 1140.4 L274.1 1142.8 L279.2 1145.2 L284.3 1147.5 L289.5 1149.8 L294.7 1152.1 L299.9 1154.3 L305.3 1156.4 L310.7 1158.5 L316.1 1160.6 L321.6 1162.7 L327.1 1164.7 L332.7 1166.7 L338.4 1168.7 L344.1 1170.6 L349.9 1172.5 L355.7 1174.4 L361.6 1176.2 L367.5 1178.0 L373.5 1179.8 L379.5 1181.6 L385.6 1183.3 L391.8 1185.0 L398.0 1186.7 L404.3 1188.3 L410.6 1190.0 L417.0 1191.6 L423.4 1193.2 L429.9 1194.7 L436.4 1196.3 L443.0 1197.8 L449.7 1199.3 L456.4 1200.8 L463.1 1202.3 L470.0 1203.7 L476.8 1205.1 L483.8 1206.5 L490.7 1207.9 L497.8 1209.2 L504.9 1210.6 L512.0 1211.9 L519.2 1213.2 L526.5 1214.5 L533.8 1215.7 L541.2 1216.9 L548.6 1218.2 L556.1 1219.4 L563.6 1220.5 L571.2 1221.7 L578.8 1222.8 L586.5 1223.9 L594.3 1225.0 L602.1 1226.1 L610.0 1227.2 L617.9 1228.2 L625.9 1229.3 L633.9 1230.3 L642.0 1231.3 L650.1 1232.3 L658.3 1233.2 L666.6 1234.2 L674.9 1235.1 L683.2 1236.0 L691.7 1236.9 L700.1 1237.8 L708.7 1238.7 L717.2 1239.6 L725.9 1240.4 L734.6 1241.3 L743.3 1242.1 L752.1 1242.9 L761.0 1243.7 L769.9 1244.5 L778.9 1245.3 L787.9 1246.0 L797.0 1246.7 L806.1 1247.5 L815.3 1248.2 L824.5 1248.9 L833.8 1249.6 L843.2 1250.2" fill="none" stroke="#5e81b5" stroke-width="3.7" stroke-linejoin="round"/>
<g fill="#5e81b5"><circle cx="45.6" cy="803.7" r="3.0"/><circle cx="46.1" cy="805.8" r="3.0"/><circle cx="47.6" cy="811.3" r="3.0"/><circle cx="50.1" cy="830.8" r="3.0"/><circle cx="53.6" cy="849.0" r="3.0"/><circle cx="58.1" cy="868.4" r="3.0"/><circle cx="63.5" cy="890.2" r="3.0"/><circle cx="70.0" cy="911.1" r="3.0"/><circle cx="77.5" cy="932.2" r="3.0"/><circle cx="86.0" cy="953.6" r="3.0"/><circle cx="95.5" cy="974.5" r="3.0"/><circle cx="105.9" cy="994.1" r="3.0"/><circle cx="117.4" cy="1012.7" r="3.0"/><circle cx="129.8" cy="1030.7" r="3.0"/><circle cx="143.3" cy="1047.7" r="3.0"/><circle cx="157.8" cy="1063.5" r="3.0"/><circle cx="173.2" cy="1078.2" r="3.0"/><circle cx="189.7" cy="1091.7" r="3.0"/><circle cx="207.1" cy="1104.3" r="3.0"/><circle cx="225.6" cy="1116.3" r="3.0"/><circle cx="245.0" cy="1127.7" r="3.0"/><circle cx="265.4" cy="1138.6" r="3.0"/><circle cx="286.9" cy="1148.7" r="3.0"/><circle cx="309.3" cy="1158.0" r="3.0"/><circle cx="332.7" cy="1166.7" r="3.0"/><circle cx="357.2" cy="1174.8" r="3.0"/><circle cx="382.6" cy="1182.4" r="3.0"/><circle cx="409.0" cy="1189.6" r="3.0"/><circle cx="436.4" cy="1196.3" r="3.0"/><circle cx="464.8" cy="1202.6" r="3.0"/><circle cx="494.3" cy="1208.6" r="3.0"/><circle cx="524.7" cy="1214.1" r="3.0"/><circle cx="556.1" cy="1219.4" r="3.0"/><circle cx="588.5" cy="1224.2" r="3.0"/><circle cx="621.9" cy="1228.7" r="3.0"/><circle cx="656.3" cy="1233.0" r="3.0"/><circle cx="691.7" cy="1236.9" r="3.0"/><circle cx="728.0" cy="1240.7" r="3.0"/><circle cx="765.4" cy="1244.1" r="3.0"/><circle cx="803.8" cy="1247.3" r="3.0"/><circle cx="843.2" cy="1250.2" r="3.0"/></g>
</g>
<g clip-path="url(#cb)">
<path d="M99.7 803.7 L99.8 803.8 L99.9 804.1 L100.0 804.5 L100.2 805.1 L100.5 805.8 L100.8 806.7 L101.2 807.7 L101.6 808.9 L102.1 810.9 L102.7 814.9 L103.3 819.9 L104.0 824.8 L104.7 829.0 L105.5 833.0 L106.3 837.0 L107.2 841.0 L108.2 845.1 L109.2 849.2 L110.3 853.3 L111.5 857.5 L112.7 861.7 L113.9 866.0 L115.2 870.4 L116.6 874.8 L118.0 879.2 L119.5 883.7 L121.1 888.2 L122.7 892.8 L124.4 897.4 L126.1 902.0 L127.9 906.6 L129.7 911.1 L131.6 915.6 L133.6 920.0 L135.6 924.4 L137.7 928.7 L139.8 932.9 L142.0 937.0 L144.3 941.1 L146.6 945.1 L149.0 949.0 L151.4 952.8 L153.9 956.6 L156.4 960.3 L159.0 964.0 L161.7 967.6 L164.4 971.2 L167.2 974.8 L170.0 978.5 L172.9 982.2 L175.9 986.0 L178.9 989.8 L182.0 993.7 L185.1 997.5 L188.3 1001.3 L191.6 1005.1 L194.9 1008.8 L198.2 1012.4 L201.7 1015.9 L205.2 1019.4 L208.7 1022.9 L212.3 1026.3 L216.0 1029.7 L219.7 1033.0 L223.5 1036.2 L227.3 1039.3 L231.2 1042.4 L235.1 1045.5 L239.1 1048.4 L243.2 1051.3 L247.3 1054.2 L251.5 1057.0 L255.8 1059.8 L260.1 1062.6 L264.4 1065.3 L268.9 1068.0 L273.3 1070.7 L277.9 1073.3 L282.5 1075.9 L287.1 1078.5 L291.8 1081.0 L296.6 1083.5 L301.5 1086.0 L306.3 1088.5 L311.3 1091.0 L316.3 1093.5 L321.4 1095.9 L326.5 1098.3 L331.7 1100.7 L336.9 1103.0 L342.2 1105.3 L347.6 1107.6 L353.0 1109.8 L358.5 1112.1 L364.0 1114.2 L369.6 1116.4 L375.2 1118.5 L380.9 1120.6 L386.7 1122.7 L392.5 1124.8 L398.4 1126.8 L404.4 1128.8 L410.4 1130.8 L416.4 1132.7 L422.6 1134.6 L428.7 1136.5 L435.0 1138.4 L441.3 1140.3 L447.6 1142.1 L454.0 1144.0 L460.5 1145.8 L467.0 1147.6 L473.6 1149.4 L480.3 1151.1 L487.0 1152.8 L493.7 1154.6 L500.6 1156.2 L507.4 1157.9 L514.4 1159.6 L521.4 1161.2 L528.4 1162.8 L535.5 1164.4 L542.7 1165.9 L549.9 1167.5 L557.2 1169.0 L564.6 1170.5 L572.0 1172.0 L579.5 1173.5 L587.0 1174.9 L594.6 1176.3 L602.2 1177.7 L609.9 1179.1 L617.7 1180.5 L625.5 1181.8 L633.4 1183.2 L641.3 1184.5 L649.3 1185.8 L657.3 1187.1 L665.5 1188.3 L673.6 1189.6 L681.8 1190.8 L690.1 1192.0 L698.5 1193.3 L706.9 1194.4 L715.3 1195.6 L723.9 1196.8 L732.4 1198.0 L741.1 1199.1 L749.8 1200.2 L758.5 1201.4 L767.3 1202.5 L776.2 1203.6 L785.1 1204.7 L794.1 1205.7 L803.2 1206.8 L812.3 1207.9 L821.5 1208.9 L830.7 1209.9 L840.0 1210.9 L849.3 1212.0 L858.7 1212.9 L868.2 1213.9 L877.7 1214.9 L887.2 1215.9 L896.9 1216.8 L906.6 1217.8 L916.3 1218.7 L926.1 1219.6 L936.0 1220.5 L945.9 1221.4" fill="none" stroke="#8fb032" stroke-width="3.7" stroke-linejoin="round"/>
<g fill="#8fb032"><circle cx="99.7" cy="803.7" r="3.0"/><circle cx="100.2" cy="805.2" r="3.0"/><circle cx="101.7" cy="809.2" r="3.0"/><circle cx="104.2" cy="826.5" r="3.0"/><circle cx="107.7" cy="843.1" r="3.0"/><circle cx="112.2" cy="860.1" r="3.0"/><circle cx="117.7" cy="878.1" r="3.0"/><circle cx="124.2" cy="896.8" r="3.0"/><circle cx="131.6" cy="915.7" r="3.0"/><circle cx="140.1" cy="933.4" r="3.0"/><circle cx="149.6" cy="950.0" r="3.0"/><circle cx="160.1" cy="965.4" r="3.0"/><circle cx="171.5" cy="980.4" r="3.0"/><circle cx="184.0" cy="996.1" r="3.0"/><circle cx="197.5" cy="1011.5" r="3.0"/><circle cx="211.9" cy="1025.9" r="3.0"/><circle cx="227.4" cy="1039.4" r="3.0"/><circle cx="243.8" cy="1051.8" r="3.0"/><circle cx="261.3" cy="1063.3" r="3.0"/><circle cx="279.7" cy="1074.3" r="3.0"/><circle cx="299.1" cy="1084.8" r="3.0"/><circle cx="319.6" cy="1095.1" r="3.0"/><circle cx="341.0" cy="1104.8" r="3.0"/><circle cx="363.5" cy="1114.0" r="3.0"/><circle cx="386.9" cy="1122.8" r="3.0"/><circle cx="411.3" cy="1131.1" r="3.0"/><circle cx="436.7" cy="1139.0" r="3.0"/><circle cx="463.2" cy="1146.5" r="3.0"/><circle cx="490.6" cy="1153.8" r="3.0"/><circle cx="519.0" cy="1160.6" r="3.0"/><circle cx="548.4" cy="1167.2" r="3.0"/><circle cx="578.8" cy="1173.3" r="3.0"/><circle cx="610.2" cy="1179.2" r="3.0"/><circle cx="642.6" cy="1184.7" r="3.0"/><circle cx="676.0" cy="1189.9" r="3.0"/><circle cx="710.4" cy="1194.9" r="3.0"/><circle cx="745.8" cy="1199.7" r="3.0"/><circle cx="782.2" cy="1204.3" r="3.0"/><circle cx="819.6" cy="1208.7" r="3.0"/><circle cx="858.0" cy="1212.9" r="3.0"/></g>
</g>
<g clip-path="url(#cb)">
<path d="M99.7 874.1 L99.8 874.1 L99.9 874.2 L100.0 874.5 L100.2 874.8 L100.5 875.2 L100.8 875.6 L101.2 876.2 L101.6 876.8 L102.1 877.9 L102.7 880.1 L103.3 882.8 L104.0 885.5 L104.7 887.6 L105.5 889.6 L106.3 891.5 L107.2 893.3 L108.2 895.1 L109.2 896.9 L110.3 898.7 L111.5 900.3 L112.7 901.7 L113.9 902.8 L115.2 903.8 L116.6 904.9 L118.0 906.3 L119.5 908.1 L121.1 910.3 L122.7 912.8 L124.4 915.4 L126.1 918.6 L127.9 922.2 L129.7 925.9 L131.6 929.5 L133.6 932.8 L135.6 936.1 L137.7 939.4 L139.8 942.8 L142.0 946.1 L144.3 949.4 L146.6 952.7 L149.0 956.1 L151.4 959.5 L153.9 963.1 L156.4 966.6 L159.0 970.2 L161.7 973.8 L164.4 977.4 L167.2 981.0 L170.0 984.7 L172.9 988.5 L175.9 992.3 L178.9 996.1 L182.0 1000.1 L185.1 1004.0 L188.3 1007.9 L191.6 1011.7 L194.9 1015.5 L198.2 1019.2 L201.7 1022.8 L205.2 1026.4 L208.7 1030.0 L212.3 1033.5 L216.0 1037.0 L219.7 1040.4 L223.5 1043.8 L227.3 1047.2 L231.2 1050.5 L235.1 1053.8 L239.1 1057.1 L243.2 1060.3 L247.3 1063.5 L251.5 1066.7 L255.8 1069.7 L260.1 1072.8 L264.4 1075.7 L268.9 1078.6 L273.3 1081.5 L277.9 1084.3 L282.5 1087.0 L287.1 1089.7 L291.8 1092.4 L296.6 1095.1 L301.5 1097.7 L306.3 1100.3 L311.3 1102.9 L316.3 1105.4 L321.4 1107.9 L326.5 1110.3 L331.7 1112.8 L336.9 1115.2 L342.2 1117.6 L347.6 1119.9 L353.0 1122.3 L358.5 1124.6 L364.0 1126.9 L369.6 1129.1 L375.2 1131.4 L380.9 1133.5 L386.7 1135.7 L392.5 1137.8 L398.4 1139.9 L404.4 1141.9 L410.4 1143.9 L416.4 1145.9 L422.6 1147.8 L428.7 1149.8 L435.0 1151.6 L441.3 1153.5 L447.6 1155.4 L454.0 1157.2 L460.5 1159.0 L467.0 1160.7 L473.6 1162.5 L480.3 1164.2 L487.0 1165.9 L493.7 1167.6 L500.6 1169.3 L507.4 1170.9 L514.4 1172.5 L521.4 1174.1 L528.4 1175.7 L535.5 1177.3 L542.7 1178.8 L549.9 1180.4 L557.2 1181.9 L564.6 1183.4 L572.0 1184.8 L579.5 1186.3 L587.0 1187.7 L594.6 1189.1 L602.2 1190.5 L609.9 1191.9 L617.7 1193.3 L625.5 1194.6 L633.4 1196.0 L641.3 1197.3 L649.3 1198.6 L657.3 1199.8 L665.5 1201.1 L673.6 1202.4 L681.8 1203.6 L690.1 1204.8 L698.5 1206.0 L706.9 1207.2 L715.3 1208.4 L723.9 1209.5 L732.4 1210.7 L741.1 1211.8 L749.8 1212.9 L758.5 1214.0 L767.3 1215.1 L776.2 1216.2 L785.1 1217.2 L794.1 1218.3 L803.2 1219.3 L812.3 1220.3 L821.5 1221.3 L830.7 1222.3 L840.0 1223.2 L849.3 1224.2 L858.7 1225.1 L868.2 1226.0 L877.7 1226.9 L887.2 1227.8 L896.9 1228.6 L906.6 1229.5 L916.3 1230.3 L926.1 1231.1 L936.0 1232.0 L945.9 1232.7" fill="none" stroke="#8fb032" stroke-width="3.7" stroke-linejoin="round" stroke-dasharray="15.2 9.2"/>
<g fill="#8fb032"><circle cx="99.7" cy="874.1" r="3.0"/><circle cx="100.2" cy="874.8" r="3.0"/><circle cx="101.7" cy="877.0" r="3.0"/><circle cx="104.2" cy="886.3" r="3.0"/><circle cx="107.7" cy="894.2" r="3.0"/><circle cx="112.2" cy="901.2" r="3.0"/><circle cx="117.7" cy="905.9" r="3.0"/><circle cx="124.2" cy="915.1" r="3.0"/><circle cx="131.6" cy="929.5" r="3.0"/><circle cx="140.1" cy="943.2" r="3.0"/><circle cx="149.6" cy="957.0" r="3.0"/><circle cx="160.1" cy="971.6" r="3.0"/><circle cx="171.5" cy="986.6" r="3.0"/><circle cx="184.0" cy="1002.6" r="3.0"/><circle cx="197.5" cy="1018.4" r="3.0"/><circle cx="211.9" cy="1033.2" r="3.0"/><circle cx="227.4" cy="1047.3" r="3.0"/><circle cx="243.8" cy="1060.8" r="3.0"/><circle cx="261.3" cy="1073.6" r="3.0"/><circle cx="279.7" cy="1085.4" r="3.0"/><circle cx="299.1" cy="1096.5" r="3.0"/><circle cx="319.6" cy="1107.0" r="3.0"/><circle cx="341.0" cy="1117.0" r="3.0"/><circle cx="363.5" cy="1126.6" r="3.0"/><circle cx="386.9" cy="1135.8" r="3.0"/><circle cx="411.3" cy="1144.2" r="3.0"/><circle cx="436.7" cy="1152.2" r="3.0"/><circle cx="463.2" cy="1159.7" r="3.0"/><circle cx="490.6" cy="1166.8" r="3.0"/><circle cx="519.0" cy="1173.6" r="3.0"/><circle cx="548.4" cy="1180.0" r="3.0"/><circle cx="578.8" cy="1186.2" r="3.0"/><circle cx="610.2" cy="1192.0" r="3.0"/><circle cx="642.6" cy="1197.5" r="3.0"/><circle cx="676.0" cy="1202.7" r="3.0"/><circle cx="710.4" cy="1207.7" r="3.0"/><circle cx="745.8" cy="1212.4" r="3.0"/><circle cx="782.2" cy="1216.9" r="3.0"/><circle cx="819.6" cy="1221.1" r="3.0"/><circle cx="858.0" cy="1225.0" r="3.0"/></g>
</g>
<g clip-path="url(#cb)">
<path d="M99.7 803.7 L99.8 805.7 L99.9 808.1 L100.0 810.9 L100.2 814.0 L100.5 817.3 L100.8 820.9 L101.2 824.6 L101.6 828.5 L102.1 832.6 L102.7 837.4 L103.3 842.6 L104.0 847.9 L104.7 853.0 L105.5 858.1 L106.3 863.3 L107.2 868.5 L108.2 873.7 L109.2 879.1 L110.3 884.5 L111.5 889.8 L112.7 894.9 L113.9 899.8 L115.2 904.7 L116.6 909.4 L118.0 914.0 L119.5 918.5 L121.1 922.9 L122.7 927.3 L124.4 931.8 L126.1 936.4 L127.9 941.1 L129.7 945.7 L131.6 950.3 L133.6 954.9 L135.6 959.5 L137.7 964.1 L139.8 968.5 L142.0 972.7 L144.3 976.8 L146.6 980.9 L149.0 984.8 L151.4 988.8 L153.9 992.6 L156.4 996.5 L159.0 1000.2 L161.7 1004.0 L164.4 1007.6 L167.2 1011.3 L170.0 1014.9 L172.9 1018.5 L175.9 1022.1 L178.9 1025.6 L182.0 1029.1 L185.1 1032.6 L188.3 1036.0 L191.6 1039.4 L194.9 1042.8 L198.2 1046.1 L201.7 1049.3 L205.2 1052.5 L208.7 1055.7 L212.3 1058.8 L216.0 1061.9 L219.7 1065.0 L223.5 1068.0 L227.3 1071.0 L231.2 1074.0 L235.1 1076.9 L239.1 1079.8 L243.2 1082.7 L247.3 1085.5 L251.5 1088.3 L255.8 1091.0 L260.1 1093.8 L264.4 1096.5 L268.9 1099.1 L273.3 1101.8 L277.9 1104.4 L282.5 1107.0 L287.1 1109.6 L291.8 1112.1 L296.6 1114.6 L301.5 1117.1 L306.3 1119.5 L311.3 1121.9 L316.3 1124.3 L321.4 1126.6 L326.5 1129.0 L331.7 1131.3 L336.9 1133.5 L342.2 1135.8 L347.6 1138.0 L353.0 1140.2 L358.5 1142.4 L364.0 1144.6 L369.6 1146.7 L375.2 1148.8 L380.9 1150.9 L386.7 1152.9 L392.5 1154.9 L398.4 1156.9 L404.4 1158.8 L410.4 1160.8 L416.4 1162.6 L422.6 1164.5 L428.7 1166.3 L435.0 1168.1 L441.3 1169.9 L447.6 1171.6 L454.0 1173.4 L460.5 1175.1 L467.0 1176.7 L473.6 1178.4 L480.3 1180.0 L487.0 1181.6 L493.7 1183.2 L500.6 1184.7 L507.4 1186.2 L514.4 1187.7 L521.4 1189.2 L528.4 1190.7 L535.5 1192.1 L542.7 1193.5 L549.9 1194.9 L557.2 1196.3 L564.6 1197.6 L572.0 1199.0 L579.5 1200.3 L587.0 1201.5 L594.6 1202.8 L602.2 1204.1 L609.9 1205.3 L617.7 1206.5 L625.5 1207.7 L633.4 1208.9 L641.3 1210.1 L649.3 1211.2 L657.3 1212.4 L665.5 1213.5 L673.6 1214.6 L681.8 1215.7 L690.1 1216.8 L698.5 1217.8 L706.9 1218.9 L715.3 1219.9 L723.9 1221.0 L732.4 1222.0 L741.1 1223.0 L749.8 1223.9 L758.5 1224.9 L767.3 1225.8 L776.2 1226.8 L785.1 1227.7 L794.1 1228.6 L803.2 1229.5 L812.3 1230.3 L821.5 1231.2 L830.7 1232.0 L840.0 1232.8 L849.3 1233.6 L858.7 1234.3 L868.2 1235.1 L877.7 1235.8 L887.2 1236.5 L896.9 1237.2 L906.6 1237.9 L916.3 1238.6 L926.1 1239.2 L936.0 1239.9 L945.9 1240.5" fill="none" stroke="#8fb032" stroke-width="3.7" stroke-linejoin="round" stroke-dasharray="6 6.4"/>
<g fill="#8fb032"><circle cx="99.7" cy="803.7" r="3.0"/><circle cx="100.2" cy="814.4" r="3.0"/><circle cx="101.7" cy="829.4" r="3.0"/><circle cx="104.2" cy="849.8" r="3.0"/><circle cx="107.7" cy="871.1" r="3.0"/><circle cx="112.2" cy="893.0" r="3.0"/><circle cx="117.7" cy="912.9" r="3.0"/><circle cx="124.2" cy="931.3" r="3.0"/><circle cx="131.6" cy="950.4" r="3.0"/><circle cx="140.1" cy="969.1" r="3.0"/><circle cx="149.6" cy="985.9" r="3.0"/><circle cx="160.1" cy="1001.7" r="3.0"/><circle cx="171.5" cy="1016.8" r="3.0"/><circle cx="184.0" cy="1031.3" r="3.0"/><circle cx="197.5" cy="1045.3" r="3.0"/><circle cx="211.9" cy="1058.5" r="3.0"/><circle cx="227.4" cy="1071.1" r="3.0"/><circle cx="243.8" cy="1083.1" r="3.0"/><circle cx="261.3" cy="1094.5" r="3.0"/><circle cx="279.7" cy="1105.4" r="3.0"/><circle cx="299.1" cy="1115.9" r="3.0"/><circle cx="319.6" cy="1125.8" r="3.0"/><circle cx="341.0" cy="1135.3" r="3.0"/><circle cx="363.5" cy="1144.4" r="3.0"/><circle cx="386.9" cy="1153.0" r="3.0"/><circle cx="411.3" cy="1161.0" r="3.0"/><circle cx="436.7" cy="1168.6" r="3.0"/><circle cx="463.2" cy="1175.7" r="3.0"/><circle cx="490.6" cy="1182.4" r="3.0"/><circle cx="519.0" cy="1188.7" r="3.0"/><circle cx="548.4" cy="1194.6" r="3.0"/><circle cx="578.8" cy="1200.1" r="3.0"/><circle cx="610.2" cy="1205.3" r="3.0"/><circle cx="642.6" cy="1210.3" r="3.0"/><circle cx="676.0" cy="1214.9" r="3.0"/><circle cx="710.4" cy="1219.3" r="3.0"/><circle cx="745.8" cy="1223.5" r="3.0"/><circle cx="782.2" cy="1227.4" r="3.0"/><circle cx="819.6" cy="1231.0" r="3.0"/><circle cx="858.0" cy="1234.3" r="3.0"/></g>
</g>
<g clip-path="url(#cb)">
<path d="M45.6 803.7 L45.6 803.7 L45.7 803.7 L45.8 803.7 L46.0 803.7 L46.3 803.7 L46.6 803.7 L47.0 803.7 L47.4 803.7 L47.8 803.7 L48.4 803.7 L48.9 803.7 L49.6 803.7 L50.3 803.8 L51.0 804.8 L51.8 806.7 L52.7 809.0 L53.6 811.0 L54.5 812.8 L55.6 814.7 L56.6 816.6 L57.8 818.4 L59.0 820.2 L60.2 822.0 L61.5 823.8 L62.8 825.6 L64.3 827.5 L65.7 829.3 L67.2 831.3 L68.8 833.2 L70.4 835.1 L72.1 837.1 L73.9 839.0 L75.7 841.0 L77.5 843.2 L79.4 845.5 L81.4 848.0 L83.4 850.6 L85.5 853.3 L87.6 856.0 L89.8 858.8 L92.0 861.7 L94.3 864.5 L96.6 867.4 L99.0 870.2 L101.5 872.9 L104.0 875.7 L106.6 878.5 L109.2 881.3 L111.9 884.1 L114.6 886.9 L117.4 889.8 L120.2 892.7 L123.1 895.6 L126.1 898.6 L129.1 901.6 L132.1 904.6 L135.3 907.6 L138.4 910.7 L141.7 913.8 L145.0 917.0 L148.3 920.4 L151.7 923.7 L155.1 927.2 L158.6 930.6 L162.2 934.1 L165.8 937.6 L169.5 941.1 L173.2 944.5 L177.0 947.9 L180.8 951.3 L184.7 954.7 L188.7 958.1 L192.7 961.4 L196.7 964.8 L200.8 968.2 L205.0 971.5 L209.2 974.9 L213.5 978.2 L217.8 981.5 L222.2 984.9 L226.7 988.2 L231.2 991.5 L235.7 994.8 L240.3 998.1 L245.0 1001.4 L249.7 1004.7 L254.5 1008.0 L259.3 1011.4 L264.2 1014.7 L269.1 1018.0 L274.1 1021.3 L279.2 1024.6 L284.3 1027.9 L289.5 1031.1 L294.7 1034.4 L299.9 1037.6 L305.3 1040.8 L310.7 1044.0 L316.1 1047.2 L321.6 1050.3 L327.1 1053.5 L332.7 1056.6 L338.4 1059.7 L344.1 1062.7 L349.9 1065.8 L355.7 1068.8 L361.6 1071.8 L367.5 1074.8 L373.5 1077.8 L379.5 1080.7 L385.6 1083.6 L391.8 1086.5 L398.0 1089.4 L404.3 1092.3 L410.6 1095.1 L417.0 1097.9 L423.4 1100.7 L429.9 1103.5 L436.4 1106.2 L443.0 1108.9 L449.7 1111.6 L456.4 1114.2 L463.1 1116.9 L470.0 1119.5 L476.8 1122.0 L483.8 1124.6 L490.7 1127.1 L497.8 1129.6 L504.9 1132.0 L512.0 1134.5 L519.2 1136.9 L526.5 1139.2 L533.8 1141.6 L541.2 1143.9 L548.6 1146.2 L556.1 1148.5 L563.6 1150.7 L571.2 1152.9 L578.8 1155.1 L586.5 1157.3 L594.3 1159.5 L602.1 1161.6 L610.0 1163.7 L617.9 1165.7 L625.9 1167.8 L633.9 1169.8 L642.0 1171.8 L650.1 1173.8 L658.3 1175.7 L666.6 1177.6 L674.9 1179.5 L683.2 1181.4 L691.7 1183.2 L700.1 1185.0 L708.7 1186.8 L717.2 1188.6 L725.9 1190.3 L734.6 1192.0 L743.3 1193.7 L752.1 1195.3 L761.0 1196.9 L769.9 1198.5 L778.9 1200.1 L787.9 1201.6 L797.0 1203.1 L806.1 1204.6 L815.3 1206.0 L824.5 1207.5 L833.8 1208.9 L843.2 1210.2" fill="none" stroke="#5e81b5" stroke-width="3.7" stroke-linejoin="round" stroke-dasharray="13.2 7.4 3.6 7.4"/>
<g fill="#5e81b5"><circle cx="45.6" cy="803.7" r="3.0"/><circle cx="46.1" cy="803.7" r="3.0"/><circle cx="47.6" cy="803.7" r="3.0"/><circle cx="50.1" cy="803.7" r="3.0"/><circle cx="53.6" cy="811.0" r="3.0"/><circle cx="58.1" cy="818.9" r="3.0"/><circle cx="63.5" cy="826.5" r="3.0"/><circle cx="70.0" cy="834.6" r="3.0"/><circle cx="77.5" cy="843.2" r="3.0"/><circle cx="86.0" cy="853.9" r="3.0"/><circle cx="95.5" cy="866.0" r="3.0"/><circle cx="105.9" cy="877.8" r="3.0"/><circle cx="117.4" cy="889.8" r="3.0"/><circle cx="129.8" cy="902.3" r="3.0"/><circle cx="143.3" cy="915.4" r="3.0"/><circle cx="157.8" cy="929.8" r="3.0"/><circle cx="173.2" cy="944.5" r="3.0"/><circle cx="189.7" cy="958.9" r="3.0"/><circle cx="207.1" cy="973.2" r="3.0"/><circle cx="225.6" cy="987.3" r="3.0"/><circle cx="245.0" cy="1001.4" r="3.0"/><circle cx="265.4" cy="1015.5" r="3.0"/><circle cx="286.9" cy="1029.5" r="3.0"/><circle cx="309.3" cy="1043.2" r="3.0"/><circle cx="332.7" cy="1056.6" r="3.0"/><circle cx="357.2" cy="1069.6" r="3.0"/><circle cx="382.6" cy="1082.2" r="3.0"/><circle cx="409.0" cy="1094.4" r="3.0"/><circle cx="436.4" cy="1106.2" r="3.0"/><circle cx="464.8" cy="1117.5" r="3.0"/><circle cx="494.3" cy="1128.4" r="3.0"/><circle cx="524.7" cy="1138.7" r="3.0"/><circle cx="556.1" cy="1148.5" r="3.0"/><circle cx="588.5" cy="1157.8" r="3.0"/><circle cx="621.9" cy="1166.8" r="3.0"/><circle cx="656.3" cy="1175.2" r="3.0"/><circle cx="691.7" cy="1183.2" r="3.0"/><circle cx="728.0" cy="1190.7" r="3.0"/><circle cx="765.4" cy="1197.7" r="3.0"/><circle cx="803.8" cy="1204.2" r="3.0"/><circle cx="843.2" cy="1210.2" r="3.0"/></g>
</g>
<g clip-path="url(#cb)">
<path d="M321.0 803.7 L321.0 804.4 L321.1 805.5 L321.3 806.9 L321.5 808.6 L321.7 810.6 L322.0 812.7 L322.4 814.9 L322.9 817.3 L323.4 819.9 L323.9 823.2 L324.5 826.9 L325.2 830.7 L325.9 834.3 L326.7 838.0 L327.6 841.8 L328.5 845.5 L329.5 849.3 L330.5 853.0 L331.6 856.8 L332.7 860.4 L333.9 864.0 L335.2 867.4 L336.5 870.7 L337.9 873.9 L339.3 877.2 L340.8 880.6 L342.3 883.9 L343.9 887.2 L345.6 890.5 L347.3 893.7 L349.1 897.0 L351.0 900.2 L352.9 903.3 L354.8 906.3 L356.9 909.2 L358.9 912.1 L361.1 915.0 L363.3 917.9 L365.5 920.7 L367.8 923.6 L370.2 926.4 L372.6 929.3 L375.1 932.1 L377.7 934.9 L380.3 937.7 L382.9 940.5 L385.7 943.3 L388.5 946.0 L391.3 948.7 L394.2 951.4 L397.1 954.0 L400.2 956.6 L403.2 959.2 L406.4 961.8 L409.6 964.4 L412.8 966.9 L416.1 969.4 L419.5 971.9 L422.9 974.4 L426.4 976.8 L429.9 979.2 L433.5 981.6 L437.2 984.0 L440.9 986.4 L444.7 988.7 L448.5 991.1 L452.4 993.4 L456.4 995.7 L460.4 998.0 L464.5 1000.2 L468.6 1002.5 L472.8 1004.7 L477.0 1006.9 L481.3 1009.1 L485.7 1011.3 L490.1 1013.4 L494.6 1015.5 L499.1 1017.6 L503.7 1019.7 L508.4 1021.8 L513.1 1023.8 L517.9 1025.9 L522.7 1027.9 L527.6 1029.9 L532.5 1031.9 L537.5 1033.9 L542.6 1035.8 L547.7 1037.8 L552.9 1039.7 L558.2 1041.6 L563.5 1043.5 L568.8 1045.4 L574.2 1047.3 L579.7 1049.2 L585.2 1051.1 L590.8 1052.9 L596.5 1054.8 L602.2 1056.6 L608.0 1058.4 L613.8 1060.2 L619.7 1061.9 L625.6 1063.7 L631.6 1065.4 L637.7 1067.1 L643.8 1068.8 L650.0 1070.5 L656.2 1072.1 L662.5 1073.8 L668.9 1075.5 L675.3 1077.1 L681.7 1078.7 L688.3 1080.4 L694.9 1082.0 L701.5 1083.6 L708.2 1085.2 L715.0 1086.7 L721.8 1088.3 L728.7 1089.8 L735.6 1091.4 L742.6 1092.9 L749.7 1094.4 L756.8 1095.9 L764.0 1097.4 L771.2 1098.9 L778.5 1100.3 L785.8 1101.8 L793.2 1103.2 L800.7 1104.6 L808.2 1106.0 L815.8 1107.4 L823.5 1108.8 L831.2 1110.2 L838.9 1111.6 L846.7 1113.0 L854.6 1114.4 L862.5 1115.7 L870.5 1117.1 L878.6 1118.4 L886.7 1119.8 L894.9 1121.1 L903.1 1122.4 L911.4 1123.7 L919.7 1125.0 L928.1 1126.3 L936.6 1127.6 L945.1 1128.9 L953.7 1130.2 L962.3 1131.4 L971.0 1132.7 L979.8 1133.9 L988.6 1135.1 L997.5 1136.3 L1006.4 1137.5 L1015.4 1138.7 L1024.4 1139.9 L1033.5 1141.1 L1042.7 1142.3 L1051.9 1143.4 L1061.2 1144.6 L1070.5 1145.7 L1079.9 1146.8 L1089.4 1147.9 L1098.9 1149.0 L1108.5 1150.1 L1118.1 1151.2 L1127.8 1152.3 L1137.6 1153.4 L1147.4 1154.4 L1157.2 1155.5 L1167.2 1156.5" fill="none" stroke="#8778b3" stroke-width="3.7" stroke-linejoin="round"/>
<g fill="#8778b3"><circle cx="321.0" cy="803.7" r="3.0"/><circle cx="321.5" cy="808.9" r="3.0"/><circle cx="323.0" cy="817.9" r="3.0"/><circle cx="325.5" cy="832.0" r="3.0"/><circle cx="329.0" cy="847.4" r="3.0"/><circle cx="333.5" cy="862.7" r="3.0"/><circle cx="338.9" cy="876.4" r="3.0"/><circle cx="345.4" cy="890.1" r="3.0"/><circle cx="352.9" cy="903.3" r="3.0"/><circle cx="361.4" cy="915.4" r="3.0"/><circle cx="370.8" cy="927.2" r="3.0"/><circle cx="381.3" cy="938.8" r="3.0"/><circle cx="392.8" cy="950.1" r="3.0"/><circle cx="405.2" cy="960.9" r="3.0"/><circle cx="418.7" cy="971.3" r="3.0"/><circle cx="433.2" cy="981.4" r="3.0"/><circle cx="448.6" cy="991.1" r="3.0"/><circle cx="465.1" cy="1000.6" r="3.0"/><circle cx="482.5" cy="1009.7" r="3.0"/><circle cx="500.9" cy="1018.5" r="3.0"/><circle cx="520.4" cy="1026.9" r="3.0"/><circle cx="540.8" cy="1035.1" r="3.0"/><circle cx="562.3" cy="1043.1" r="3.0"/><circle cx="584.7" cy="1050.9" r="3.0"/><circle cx="608.1" cy="1058.4" r="3.0"/><circle cx="632.6" cy="1065.6" r="3.0"/><circle cx="658.0" cy="1072.6" r="3.0"/><circle cx="684.4" cy="1079.4" r="3.0"/><circle cx="711.8" cy="1086.0" r="3.0"/><circle cx="740.2" cy="1092.4" r="3.0"/><circle cx="769.6" cy="1098.6" r="3.0"/><circle cx="800.0" cy="1104.5" r="3.0"/><circle cx="831.5" cy="1110.3" r="3.0"/><circle cx="863.9" cy="1116.0" r="3.0"/></g>
</g>
<g clip-path="url(#cb)">
<path d="M321.0 924.8 L321.0 925.0 L321.1 925.2 L321.3 925.3 L321.5 925.5 L321.7 925.7 L322.0 925.9 L322.4 926.1 L322.9 926.2 L323.4 926.4 L323.9 926.7 L324.5 926.9 L325.2 927.0 L325.9 927.1 L326.7 927.1 L327.6 927.1 L328.5 927.2 L329.5 927.3 L330.5 927.7 L331.6 928.4 L332.7 929.2 L333.9 929.8 L335.2 930.3 L336.5 930.8 L337.9 931.4 L339.3 932.1 L340.8 932.8 L342.3 933.6 L343.9 934.4 L345.6 935.3 L347.3 936.1 L349.1 937.1 L351.0 938.0 L352.9 938.9 L354.8 939.8 L356.9 940.6 L358.9 941.5 L361.1 942.3 L363.3 943.2 L365.5 944.0 L367.8 944.9 L370.2 945.8 L372.6 946.8 L375.1 947.9 L377.7 949.0 L380.3 950.2 L382.9 951.4 L385.7 952.7 L388.5 954.0 L391.3 955.3 L394.2 956.6 L397.1 958.0 L400.2 959.5 L403.2 961.0 L406.4 962.5 L409.6 964.1 L412.8 965.7 L416.1 967.3 L419.5 968.8 L422.9 970.4 L426.4 972.0 L429.9 973.6 L433.5 975.2 L437.2 976.8 L440.9 978.4 L444.7 980.2 L448.5 981.9 L452.4 983.8 L456.4 985.7 L460.4 987.7 L464.5 989.7 L468.6 991.8 L472.8 993.9 L477.0 996.0 L481.3 998.1 L485.7 1000.2 L490.1 1002.3 L494.6 1004.5 L499.1 1006.6 L503.7 1008.8 L508.4 1011.0 L513.1 1013.2 L517.9 1015.4 L522.7 1017.6 L527.6 1019.8 L532.5 1022.0 L537.5 1024.2 L542.6 1026.5 L547.7 1028.7 L552.9 1030.9 L558.2 1033.2 L563.5 1035.4 L568.8 1037.7 L574.2 1040.0 L579.7 1042.3 L585.2 1044.7 L590.8 1047.0 L596.5 1049.3 L602.2 1051.6 L608.0 1053.8 L613.8 1056.0 L619.7 1058.2 L625.6 1060.4 L631.6 1062.6 L637.7 1064.7 L643.8 1066.8 L650.0 1068.9 L656.2 1071.0 L662.5 1073.0 L668.9 1075.0 L675.3 1077.0 L681.7 1079.0 L688.3 1080.9 L694.9 1082.8 L701.5 1084.8 L708.2 1086.7 L715.0 1088.5 L721.8 1090.4 L728.7 1092.3 L735.6 1094.1 L742.6 1096.0 L749.7 1097.8 L756.8 1099.6 L764.0 1101.3 L771.2 1103.1 L778.5 1104.8 L785.8 1106.5 L793.2 1108.2 L800.7 1109.9 L808.2 1111.5 L815.8 1113.2 L823.5 1114.8 L831.2 1116.4 L838.9 1118.0 L846.7 1119.5 L854.6 1121.1 L862.5 1122.6 L870.5 1124.1 L878.6 1125.6 L886.7 1127.1 L894.9 1128.6 L903.1 1130.0 L911.4 1131.5 L919.7 1132.9 L928.1 1134.3 L936.6 1135.7 L945.1 1137.1 L953.7 1138.5 L962.3 1139.8 L971.0 1141.2 L979.8 1142.5 L988.6 1143.9 L997.5 1145.2 L1006.4 1146.5 L1015.4 1147.8 L1024.4 1149.0 L1033.5 1150.3 L1042.7 1151.6 L1051.9 1152.8 L1061.2 1154.0 L1070.5 1155.2 L1079.9 1156.4 L1089.4 1157.6 L1098.9 1158.7 L1108.5 1159.9 L1118.1 1161.0 L1127.8 1162.2 L1137.6 1163.3 L1147.4 1164.4 L1157.2 1165.5 L1167.2 1166.5" fill="none" stroke="#8778b3" stroke-width="3.7" stroke-linejoin="round" stroke-dasharray="15.2 9.2"/>
<g fill="#8778b3"><circle cx="321.0" cy="924.8" r="3.0"/><circle cx="321.5" cy="925.5" r="3.0"/><circle cx="323.0" cy="926.3" r="3.0"/><circle cx="325.5" cy="927.1" r="3.0"/><circle cx="329.0" cy="927.2" r="3.0"/><circle cx="333.5" cy="929.6" r="3.0"/><circle cx="338.9" cy="931.9" r="3.0"/><circle cx="345.4" cy="935.2" r="3.0"/><circle cx="352.9" cy="938.9" r="3.0"/><circle cx="361.4" cy="942.5" r="3.0"/><circle cx="370.8" cy="946.0" r="3.0"/><circle cx="381.3" cy="950.6" r="3.0"/><circle cx="392.8" cy="956.0" r="3.0"/><circle cx="405.2" cy="962.0" r="3.0"/><circle cx="418.7" cy="968.5" r="3.0"/><circle cx="433.2" cy="975.0" r="3.0"/><circle cx="448.6" cy="982.0" r="3.0"/><circle cx="465.1" cy="990.0" r="3.0"/><circle cx="482.5" cy="998.7" r="3.0"/><circle cx="500.9" cy="1007.5" r="3.0"/><circle cx="520.4" cy="1016.6" r="3.0"/><circle cx="540.8" cy="1025.7" r="3.0"/><circle cx="562.3" cy="1034.9" r="3.0"/><circle cx="584.7" cy="1044.5" r="3.0"/><circle cx="608.1" cy="1053.9" r="3.0"/><circle cx="632.6" cy="1062.9" r="3.0"/><circle cx="658.0" cy="1071.6" r="3.0"/><circle cx="684.4" cy="1079.8" r="3.0"/><circle cx="711.8" cy="1087.7" r="3.0"/><circle cx="740.2" cy="1095.3" r="3.0"/><circle cx="769.6" cy="1102.7" r="3.0"/><circle cx="800.0" cy="1109.7" r="3.0"/><circle cx="831.5" cy="1116.5" r="3.0"/><circle cx="863.9" cy="1122.9" r="3.0"/></g>
</g>
<g clip-path="url(#cb)">
<path d="M321.0 803.7 L321.0 805.3 L321.1 807.1 L321.3 809.1 L321.5 811.3 L321.7 813.6 L322.0 816.0 L322.4 818.5 L322.9 821.1 L323.4 823.9 L323.9 827.0 L324.5 830.4 L325.2 833.7 L325.9 836.8 L326.7 839.8 L327.6 842.8 L328.5 845.9 L329.5 849.3 L330.5 852.9 L331.6 856.7 L332.7 860.4 L333.9 864.0 L335.2 867.6 L336.5 871.1 L337.9 874.7 L339.3 878.4 L340.8 882.3 L342.3 886.4 L343.9 890.5 L345.6 894.5 L347.3 898.6 L349.1 902.8 L351.0 906.9 L352.9 910.7 L354.8 914.3 L356.9 917.8 L358.9 921.1 L361.1 924.5 L363.3 927.8 L365.5 931.0 L367.8 934.3 L370.2 937.5 L372.6 940.9 L375.1 944.2 L377.7 947.6 L380.3 951.0 L382.9 954.3 L385.7 957.7 L388.5 961.0 L391.3 964.2 L394.2 967.4 L397.1 970.5 L400.2 973.5 L403.2 976.6 L406.4 979.6 L409.6 982.5 L412.8 985.5 L416.1 988.4 L419.5 991.2 L422.9 994.1 L426.4 996.9 L429.9 999.7 L433.5 1002.4 L437.2 1005.1 L440.9 1007.8 L444.7 1010.4 L448.5 1013.1 L452.4 1015.7 L456.4 1018.3 L460.4 1020.8 L464.5 1023.3 L468.6 1025.9 L472.8 1028.3 L477.0 1030.8 L481.3 1033.2 L485.7 1035.6 L490.1 1038.0 L494.6 1040.4 L499.1 1042.7 L503.7 1045.0 L508.4 1047.3 L513.1 1049.5 L517.9 1051.8 L522.7 1054.1 L527.6 1056.3 L532.5 1058.5 L537.5 1060.7 L542.6 1062.9 L547.7 1065.1 L552.9 1067.2 L558.2 1069.4 L563.5 1071.5 L568.8 1073.6 L574.2 1075.7 L579.7 1077.7 L585.2 1079.8 L590.8 1081.8 L596.5 1083.8 L602.2 1085.8 L608.0 1087.7 L613.8 1089.7 L619.7 1091.6 L625.6 1093.4 L631.6 1095.3 L637.7 1097.2 L643.8 1099.0 L650.0 1100.8 L656.2 1102.6 L662.5 1104.4 L668.9 1106.2 L675.3 1108.0 L681.7 1109.7 L688.3 1111.4 L694.9 1113.2 L701.5 1114.9 L708.2 1116.5 L715.0 1118.2 L721.8 1119.9 L728.7 1121.5 L735.6 1123.2 L742.6 1124.8 L749.7 1126.4 L756.8 1127.9 L764.0 1129.5 L771.2 1131.0 L778.5 1132.6 L785.8 1134.1 L793.2 1135.6 L800.7 1137.1 L808.2 1138.5 L815.8 1140.0 L823.5 1141.4 L831.2 1142.8 L838.9 1144.2 L846.7 1145.6 L854.6 1146.9 L862.5 1148.3 L870.5 1149.6 L878.6 1150.9 L886.7 1152.2 L894.9 1153.5 L903.1 1154.8 L911.4 1156.0 L919.7 1157.3 L928.1 1158.5 L936.6 1159.7 L945.1 1161.0 L953.7 1162.2 L962.3 1163.4 L971.0 1164.6 L979.8 1165.8 L988.6 1166.9 L997.5 1168.1 L1006.4 1169.3 L1015.4 1170.4 L1024.4 1171.6 L1033.5 1172.7 L1042.7 1173.9 L1051.9 1175.0 L1061.2 1176.1 L1070.5 1177.2 L1079.9 1178.4 L1089.4 1179.5 L1098.9 1180.6 L1108.5 1181.7 L1118.1 1182.8 L1127.8 1183.9 L1137.6 1185.0 L1147.4 1186.1 L1157.2 1187.1 L1167.2 1188.2" fill="none" stroke="#8778b3" stroke-width="3.7" stroke-linejoin="round" stroke-dasharray="6 6.4"/>
<g fill="#8778b3"><circle cx="321.0" cy="803.7" r="3.0"/><circle cx="321.5" cy="811.6" r="3.0"/><circle cx="323.0" cy="821.8" r="3.0"/><circle cx="325.5" cy="834.9" r="3.0"/><circle cx="329.0" cy="847.6" r="3.0"/><circle cx="333.5" cy="862.7" r="3.0"/><circle cx="338.9" cy="877.5" r="3.0"/><circle cx="345.4" cy="894.0" r="3.0"/><circle cx="352.9" cy="910.7" r="3.0"/><circle cx="361.4" cy="924.9" r="3.0"/><circle cx="370.8" cy="938.4" r="3.0"/><circle cx="381.3" cy="952.3" r="3.0"/><circle cx="392.8" cy="965.8" r="3.0"/><circle cx="405.2" cy="978.5" r="3.0"/><circle cx="418.7" cy="990.6" r="3.0"/><circle cx="433.2" cy="1002.1" r="3.0"/><circle cx="448.6" cy="1013.1" r="3.0"/><circle cx="465.1" cy="1023.7" r="3.0"/><circle cx="482.5" cy="1033.9" r="3.0"/><circle cx="500.9" cy="1043.6" r="3.0"/><circle cx="520.4" cy="1053.0" r="3.0"/><circle cx="540.8" cy="1062.2" r="3.0"/><circle cx="562.3" cy="1071.0" r="3.0"/><circle cx="584.7" cy="1079.6" r="3.0"/><circle cx="608.1" cy="1087.8" r="3.0"/><circle cx="632.6" cy="1095.6" r="3.0"/><circle cx="658.0" cy="1103.1" r="3.0"/><circle cx="684.4" cy="1110.4" r="3.0"/><circle cx="711.8" cy="1117.4" r="3.0"/><circle cx="740.2" cy="1124.2" r="3.0"/><circle cx="769.6" cy="1130.7" r="3.0"/><circle cx="800.0" cy="1136.9" r="3.0"/><circle cx="831.5" cy="1142.8" r="3.0"/><circle cx="863.9" cy="1148.5" r="3.0"/></g>
</g>
<g stroke="#000" stroke-width="1.6" fill="none">
<path d="M45.8 1264.7 V760"/>
<path d="M45.2 1264.7 H868"/>
<path d="M45.8 1256.2h5.5"/>
<path d="M45.8 1234.7h9.0"/>
<path d="M45.8 1213.2h5.5"/>
<path d="M45.8 1191.6h5.5"/>
<path d="M45.8 1170.0h5.5"/>
<path d="M45.8 1148.5h5.5"/>
<path d="M45.8 1127.0h9.0"/>
<path d="M45.8 1105.4h5.5"/>
<path d="M45.8 1083.9h5.5"/>
<path d="M45.8 1062.3h5.5"/>
<path d="M45.8 1040.8h5.5"/>
<path d="M45.8 1019.2h9.0"/>
<path d="M45.8 997.7h5.5"/>
<path d="M45.8 976.1h5.5"/>
<path d="M45.8 954.6h5.5"/>
<path d="M45.8 933.0h5.5"/>
<path d="M45.8 911.5h9.0"/>
<path d="M45.8 889.9h5.5"/>
<path d="M45.8 868.4h5.5"/>
<path d="M45.8 846.8h5.5"/>
<path d="M45.8 825.3h5.5"/>
<path d="M45.8 803.7h9.0"/>
<path d="M45.8 782.1h5.5"/>
<path d="M85.5 1264.7v-5.5"/>
<path d="M125.4 1264.7v-5.5"/>
<path d="M165.2 1264.7v-5.5"/>
<path d="M205.1 1264.7v-5.5"/>
<path d="M245.0 1264.7v-9.8"/>
<path d="M284.9 1264.7v-5.5"/>
<path d="M324.8 1264.7v-5.5"/>
<path d="M364.6 1264.7v-5.5"/>
<path d="M404.5 1264.7v-5.5"/>
<path d="M444.4 1264.7v-9.8"/>
<path d="M484.3 1264.7v-5.5"/>
<path d="M524.2 1264.7v-5.5"/>
<path d="M564.0 1264.7v-5.5"/>
<path d="M603.9 1264.7v-5.5"/>
<path d="M643.8 1264.7v-9.8"/>
<path d="M683.7 1264.7v-5.5"/>
<path d="M723.6 1264.7v-5.5"/>
<path d="M763.4 1264.7v-5.5"/>
<path d="M803.3 1264.7v-5.5"/>
<path d="M843.2 1264.7v-9.8"/>
</g>
<path d="M45.8 750.2 l5.6 20.8 l-5.6 -4 l-5.6 4z" fill="#000"/>
<path d="M882.8 1264.7 l-20.8 -5.7 l4 5.7 l-4 5.7z" fill="#000"/>
<path d="M7.6 0.4H36" stroke="#000" stroke-width="2.2"/>
<path d="M12.8 695.9H40.4" stroke="#000" stroke-width="1.8"/>
<path d="M245.8 169.9H290.0" stroke="#8fb032" stroke-width="2.4"/>
<path d="M245.8 224.7H290.0" stroke="#8fb032" stroke-width="2.4" stroke-dasharray="11.6 3.6"/>
<path d="M245.8 280.7H281.0" stroke="#8fb032" stroke-width="2.4" stroke-dasharray="6 8.2"/>
<path d="M553.8 169.9H597.6" stroke="#8778b3" stroke-width="2.0"/>
<path d="M553.8 224.7H597.6" stroke="#8778b3" stroke-width="2.0" stroke-dasharray="11.6 3.6"/>
<path d="M553.8 280.7H589.0" stroke="#8778b3" stroke-width="2.0" stroke-dasharray="6 8.2"/>
<path d="M143.7 759.9H176.3" stroke="#8fb032" stroke-width="2.2"/>
<path d="M143.7 813.8H171.1" stroke="#8fb032" stroke-width="2.2" stroke-dasharray="12.2 4.6"/>
<path d="M143.7 868.6H176.0" stroke="#8fb032" stroke-width="2.2" stroke-dasharray="5.3 5"/>
<path d="M542.8 857.8H584.8" stroke="#8778b3" stroke-width="1.8"/>
<path d="M542.8 910.8H584.8" stroke="#8778b3" stroke-width="1.8" stroke-dasharray="11.2 3.9"/>
<path d="M542.8 965.3H586.0" stroke="#8778b3" stroke-width="1.8" stroke-dasharray="5.2 4.9"/>
<text x="26.4" y="37.6" font-size="28.5" fill="#000" font-style="italic" letter-spacing="-0.27" stroke="#000">post</text>
<text x="-0.1" y="123.9" font-size="26" fill="#000" stroke="#000">0.5</text>
<text x="-0.1" y="234.8" font-size="26" fill="#000" stroke="#000">0.4</text>
<text x="-0.1" y="345.7" font-size="26" fill="#000" stroke="#000">0.3</text>
<text x="0.9" y="456.6" font-size="26" fill="#000" stroke="#000">0.2</text>
<text x="0.9" y="567.5" font-size="26" fill="#000" stroke="#000">0.1</text>
<text x="241.1" y="626.0" font-size="26" fill="#000" stroke="#000">1</text>
<text x="446.5" y="626.0" font-size="26" fill="#000" stroke="#000">2</text>
<text x="651.9" y="626.0" font-size="26" fill="#000" stroke="#000">3</text>
<text x="857.3" y="626.0" font-size="26" fill="#000" stroke="#000">4</text>
<text x="972.8" y="587.2" font-size="27" fill="#000" font-style="italic" stroke="#000">2</text>
<text x="302.1" y="181.1" font-size="30.5" fill="#8fb032" word-spacing="3.42" stroke="#8fb032">r = 0.5, <tspan font-style="italic">φ</tspan> = 0</text>
<text x="302.1" y="236.9" font-size="30.5" fill="#8fb032" word-spacing="4.12" stroke="#8fb032">r = 0.5, <tspan font-style="italic">φ</tspan> = <tspan font-style="italic">π</tspan>/2</text>
<text x="303.6" y="291.7" font-size="30.5" fill="#8fb032" word-spacing="3.04" stroke="#8fb032">r = 0.5, <tspan font-style="italic">φ</tspan> = <tspan font-style="italic">π</tspan></text>
<text x="620.4" y="181.1" font-size="30.5" fill="#8778b3" word-spacing="3.56" stroke="#8778b3">r = 1, <tspan font-style="italic">φ</tspan> = 0</text>
<text x="620.4" y="236.9" font-size="30.5" fill="#8778b3" word-spacing="4.44" stroke="#8778b3">r = 1, <tspan font-style="italic">φ</tspan> = <tspan font-style="italic">π</tspan>/2</text>
<text x="622.8" y="291.7" font-size="30.5" fill="#8778b3" word-spacing="3.28" stroke="#8778b3">r = 1, <tspan font-style="italic">φ</tspan> = <tspan font-style="italic">π</tspan></text>
<text x="244.9" y="515.1" font-size="30.5" fill="#5e81b5" word-spacing="3.65" stroke="#5e81b5">r = 0</text>
<text x="441.9" y="681.8" font-size="40" fill="#000" letter-spacing="1.65" style="stroke-width:0">(<tspan font-size="36">a</tspan>)</text>
<text x="31.2" y="729.5" font-size="26.5" fill="#000" font-style="italic" letter-spacing="-0.63" stroke="#000">post</text>
<text x="6.8" y="812.2" font-size="24" fill="#000" stroke="#000">0.5</text>
<text x="5.8" y="920.0" font-size="24" fill="#000" stroke="#000">0.4</text>
<text x="6.8" y="1027.7" font-size="24" fill="#000" stroke="#000">0.3</text>
<text x="6.8" y="1135.5" font-size="24" fill="#000" stroke="#000">0.2</text>
<text x="7.8" y="1243.2" font-size="24" fill="#000" stroke="#000">0.1</text>
<text x="238.5" y="1297.9" font-size="24" fill="#000" stroke="#000">1</text>
<text x="437.9" y="1297.9" font-size="24" fill="#000" stroke="#000">2</text>
<text x="637.3" y="1297.9" font-size="24" fill="#000" stroke="#000">3</text>
<text x="836.7" y="1297.9" font-size="24" fill="#000" stroke="#000">4</text>
<text x="903.3" y="1275.8" font-size="36.5" fill="#000" font-style="italic" stroke="#000">n</text>
<text x="191.4" y="771.1" font-size="28.5" fill="#8fb032" word-spacing="3.00" stroke="#8fb032">r = 0.5, <tspan font-style="italic">φ</tspan> = 0</text>
<text x="196.0" y="825.0" font-size="28.5" fill="#8fb032" word-spacing="4.95" stroke="#8fb032"><tspan font-style="italic">φ</tspan> = <tspan letter-spacing="1.6"><tspan font-style="italic">π</tspan>/2</tspan></text>
<text x="196.0" y="879.9" font-size="28.5" fill="#8fb032" word-spacing="3.50" stroke="#8fb032"><tspan font-style="italic">φ</tspan> = <tspan font-style="italic">π</tspan></text>
<text x="611.2" y="868.1" font-size="28.5" fill="#8778b3" word-spacing="2.94" stroke="#8778b3">r = 1, <tspan font-style="italic">φ</tspan> = 0</text>
<text x="611.2" y="921.4" font-size="28.5" fill="#8778b3" word-spacing="3.84" stroke="#8778b3">r = 1, <tspan font-style="italic">φ</tspan> = <tspan font-style="italic">π</tspan>/2</text>
<text x="612.8" y="976.0" font-size="28.5" fill="#8778b3" word-spacing="3.02" stroke="#8778b3">r = 1, <tspan font-style="italic">φ</tspan> = <tspan font-style="italic">π</tspan></text>
<text x="269.8" y="1008.1" font-size="28.5" fill="#5e81b5" word-spacing="3.40" stroke="#5e81b5">r = 0</text>
<text x="306.3" y="1034.0" font-size="29.5" fill="#5e81b5" letter-spacing="0.56" stroke="#5e81b5">heterodyne</text>
<text x="243.8" y="1191.8" font-size="28.5" fill="#5e81b5" word-spacing="3.45" stroke="#5e81b5">r = 0</text>
<text x="440.5" y="1353.6" font-size="40" fill="#000" letter-spacing="1.75" style="stroke-width:0">(<tspan font-size="36">b</tspan>)</text>
<text transform="translate(5.3,33) scale(0.9,1)" font-size="39" font-style="italic" stroke="#000">V</text>
<text transform="translate(11,725.8) scale(0.8875,1)" font-size="36.5" font-style="italic" stroke="#000">V</text>
<text transform="translate(937.9,601.2) scale(1.23,0.9)" font-size="38" font-style="italic" style="stroke-width:0" stroke="#000">α</text>
<text transform="translate(927.1,599.8) scale(1.3,1)" font-size="35" style="stroke-width:0.2px" stroke="#000">|</text>
<text transform="translate(963.3,602.3) scale(1.3,1)" font-size="38" style="stroke-width:0.2px" stroke="#000">|</text>
</svg>
</body></html>
